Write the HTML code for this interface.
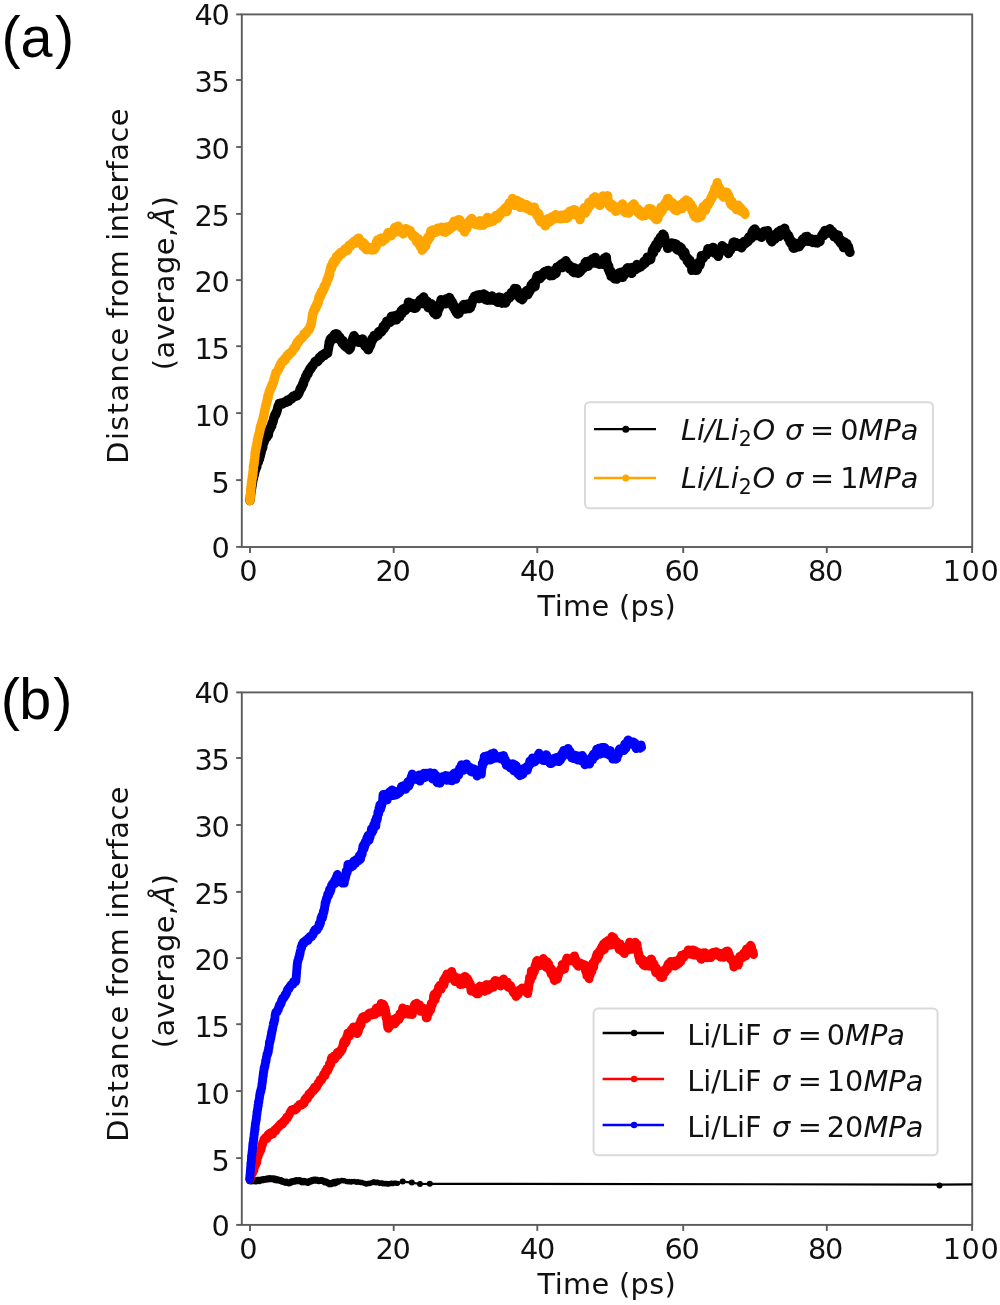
<!DOCTYPE html>
<html lang="en">
<head>
<meta charset="utf-8">
<title>Distance from interface vs time</title>
<style>
html,body{margin:0;padding:0;background:#fff;}
body{width:1000px;height:1305px;overflow:hidden;font-family:'Liberation Sans',sans-serif;}
svg{display:block;}
text{white-space:pre;}
</style>
</head>
<body>
<svg width="1000" height="1305" viewBox="0 0 1000 1305">
<rect width="1000" height="1305" fill="#fff"/>
<g>
<text x="1.6" y="57.3" dx="0 -0.3 2.5" font-family="'Liberation Sans',sans-serif" font-size="57.5" fill="#000">(a)</text>
<text x="0.8" y="718.5" dx="0 -0.7 2.0" font-family="'Liberation Sans',sans-serif" font-size="57.5" fill="#000">(b)</text>
<!-- panel a -->
<rect x="241.8" y="14.4" width="730.4" height="532.6" fill="#fff" stroke="#5c5c5c" stroke-width="1.9"/>
<g stroke="#5c5c5c" stroke-width="1.9"><line x1="250.0" y1="547.0" x2="250.0" y2="553.0"/><line x1="393.7" y1="547.0" x2="393.7" y2="553.0"/><line x1="537.3" y1="547.0" x2="537.3" y2="553.0"/><line x1="683.2" y1="547.0" x2="683.2" y2="553.0"/><line x1="826.8" y1="547.0" x2="826.8" y2="553.0"/><line x1="972.1" y1="547.0" x2="972.1" y2="553.0"/><line x1="241.8" y1="546.9" x2="236.2" y2="546.9"/><line x1="241.8" y1="480.1" x2="236.2" y2="480.1"/><line x1="241.8" y1="413.1" x2="236.2" y2="413.1"/><line x1="241.8" y1="346.2" x2="236.2" y2="346.2"/><line x1="241.8" y1="280.1" x2="236.2" y2="280.1"/><line x1="241.8" y1="213.9" x2="236.2" y2="213.9"/><line x1="241.8" y1="147.0" x2="236.2" y2="147.0"/><line x1="241.8" y1="80.0" x2="236.2" y2="80.0"/><line x1="241.8" y1="14.4" x2="236.2" y2="14.4"/></g>
<g font-family="'DejaVu Sans','Liberation Sans',sans-serif" font-size="28.8" fill="#111"><text x="248.3" y="580.9" text-anchor="middle" letter-spacing="0">0</text><text x="392.4" y="580.9" text-anchor="middle" letter-spacing="-1.3">20</text><text x="536.9" y="580.9" text-anchor="middle" letter-spacing="-1.3">40</text><text x="681.6" y="580.9" text-anchor="middle" letter-spacing="-1.3">60</text><text x="825.1" y="580.9" text-anchor="middle" letter-spacing="-1.3">80</text><text x="971.1" y="580.9" text-anchor="middle" letter-spacing="0.6">100</text><text x="228.5" y="25.3" text-anchor="end" letter-spacing="-1.3">40</text><text x="228.5" y="92.2" text-anchor="end" letter-spacing="-1.3">35</text><text x="228.5" y="159.1" text-anchor="end" letter-spacing="-1.3">30</text><text x="228.5" y="226.4" text-anchor="end" letter-spacing="-1.3">25</text><text x="228.5" y="291.5" text-anchor="end" letter-spacing="-1.3">20</text><text x="228.5" y="358.8" text-anchor="end" letter-spacing="-1.3">15</text><text x="228.5" y="426.1" text-anchor="end" letter-spacing="-1.3">10</text><text x="229.8" y="493.1" text-anchor="end" letter-spacing="0">5</text><text x="229.8" y="558.3" text-anchor="end" letter-spacing="0">0</text><text x="606.7" y="616.2" text-anchor="middle" textLength="138.2" lengthAdjust="spacing">Time (ps)</text><text transform="translate(127.9,0.0) rotate(-90)"><tspan x="-463.7" letter-spacing="1.41">Distance </tspan><tspan x="-318.4" letter-spacing="0.42">from </tspan><tspan x="-240.7" letter-spacing="0.46">interface</tspan></text><text transform="translate(174.2,282.8) rotate(-90)" text-anchor="middle" letter-spacing="0.5">(average,<tspan font-style="italic">Å</tspan>)</text></g>
<clipPath id="ca"><rect x="241.8" y="14.4" width="730.4" height="532.6"/></clipPath>
<g clip-path="url(#ca)">
<polyline points="250.0,500.6 250.1,499.2 250.1,499.3 250.2,499.6 250.3,498.9 250.3,497.9 250.4,497.5 250.5,496.8 250.5,495.1 250.6,494.3 250.7,494.3 250.8,493.8 250.8,493.8 250.9,492.4 251.0,491.9 251.0,492.2 251.1,491.5 251.2,490.9 251.2,489.8 251.3,489.3 251.4,488.8 251.4,488.6 251.5,488.6 251.6,488.7 251.6,487.5 251.7,486.3 251.8,486.3 251.9,486.3 252.0,486.0 252.1,485.0 252.2,484.3 252.3,483.4 252.4,483.0 252.5,483.1 252.6,482.2 252.7,480.6 252.8,480.0 252.9,479.9 253.1,479.1 253.2,478.7 253.3,479.2 253.4,478.7 253.5,477.4 253.6,476.9 253.7,475.8 253.8,475.5 253.9,475.3 254.0,475.4 254.2,475.2 254.3,474.8 254.5,474.3 254.6,473.3 254.8,471.4 255.0,470.7 255.1,470.2 255.3,470.5 255.4,470.1 255.6,469.5 255.7,469.4 255.9,468.6 256.0,468.9 256.2,468.1 256.4,466.6 256.5,466.0 256.7,466.7 256.9,466.5 257.0,464.8 257.2,463.5 257.4,462.8 257.6,462.3 257.7,462.7 257.9,462.3 258.1,462.1 258.3,462.2 258.4,461.6 258.6,460.0 258.8,459.9 259.0,459.1 259.1,458.5 259.3,459.4 259.5,458.9 259.7,457.1 259.8,456.2 260.0,456.8 260.2,456.0 260.4,455.4 260.5,454.4 260.6,453.3 260.8,453.4 260.9,453.3 261.1,452.5 261.2,451.0 261.4,451.0 261.5,450.3 261.6,449.2 261.8,449.3 261.9,449.6 262.1,449.1 262.2,448.3 262.4,448.2 262.5,447.9 262.6,447.9 262.8,447.0 262.9,445.8 263.1,444.5 263.2,443.5 263.3,443.0 263.5,442.5 263.6,442.3 263.8,441.7 264.0,441.3 264.3,441.9 264.5,440.6 264.8,439.3 265.1,439.4 265.3,438.5 265.6,437.6 265.9,437.6 266.1,437.5 266.4,437.6 266.7,437.5 266.9,437.0 267.2,436.3 267.5,435.3 267.7,435.7 268.0,435.6 268.3,435.1 268.5,433.8 268.7,431.8 268.9,431.8 269.0,431.2 269.2,429.9 269.4,429.5 269.6,430.1 269.8,429.5 270.0,429.2 270.2,428.9 270.4,427.7 270.5,427.5 270.7,427.6 270.9,426.6 271.1,426.2 271.3,425.9 271.5,426.1 271.7,426.3 271.9,424.5 272.0,423.4 272.2,422.8 272.4,422.4 272.6,422.4 272.8,422.3 273.0,421.9 273.2,420.9 273.3,420.1 273.5,419.7 273.7,418.6 273.9,417.5 274.0,417.2 274.2,417.6 274.4,416.7 274.6,416.1 274.8,415.4 275.0,414.4 275.2,414.7 275.4,415.2 275.6,414.8 275.9,414.0 276.1,412.6 276.3,412.6 276.5,412.6 276.7,411.9 276.9,411.6 277.1,410.3 277.3,409.8 277.5,409.0 277.7,407.9 277.9,407.7 278.1,406.3 278.3,406.3 278.5,406.0 278.7,405.9 278.9,405.8 279.1,404.4 279.3,403.4 279.5,403.4 279.8,404.0 280.3,404.1 280.8,403.5 281.3,403.6 281.9,402.9 282.4,402.8 282.9,403.8 283.4,402.4 283.9,402.7 284.4,402.4 285.0,401.8 285.5,401.8 286.0,401.5 286.5,402.2 287.0,401.0 287.5,400.0 288.1,401.1 288.6,401.2 289.1,399.9 289.6,399.3 290.1,398.9 290.5,398.6 291.0,398.3 291.4,398.9 291.9,398.6 292.3,397.0 292.8,396.4 293.2,396.6 293.7,396.4 294.1,396.3 294.6,396.5 295.0,396.5 295.5,396.1 295.9,394.8 296.4,395.0 296.8,396.0 297.3,395.6 297.7,394.7 298.2,394.6 298.6,393.6 298.8,392.9 299.0,393.1 299.2,392.5 299.5,391.1 299.7,391.0 299.9,390.5 300.1,389.0 300.3,389.2 300.5,389.5 300.7,388.6 300.9,387.7 301.2,388.5 301.4,388.2 301.6,386.9 301.8,386.1 302.0,385.8 302.2,386.3 302.4,386.1 302.6,384.8 302.8,383.6 303.1,383.8 303.3,384.2 303.5,383.7 303.8,382.0 304.0,380.3 304.3,379.8 304.5,380.0 304.8,379.4 305.0,379.3 305.3,378.7 305.5,377.0 305.8,377.0 306.0,377.6 306.2,376.3 306.5,375.0 306.7,374.7 307.0,373.8 307.2,374.0 307.5,373.7 307.7,373.2 308.0,373.9 308.2,373.3 308.5,371.8 308.7,370.9 309.0,370.7 309.2,371.0 309.5,369.6 309.8,368.8 310.1,369.1 310.5,369.3 310.8,368.7 311.1,368.0 311.4,366.6 311.8,367.5 312.1,366.8 312.4,365.3 312.8,365.4 313.1,365.5 313.4,364.7 313.8,364.1 314.1,363.5 314.4,363.2 314.7,362.4 315.1,361.5 315.5,361.2 315.9,360.9 316.3,361.6 316.7,361.9 317.1,361.5 317.5,361.8 317.9,360.3 318.2,359.4 318.6,360.5 319.0,359.5 319.4,357.3 319.8,357.4 320.2,358.2 320.6,358.3 321.0,358.0 321.4,356.7 321.7,355.3 322.2,355.0 322.6,355.4 323.1,354.7 323.5,354.1 324.0,355.4 324.4,355.4 324.9,353.3 325.4,353.5 325.8,353.6 326.3,352.9 326.7,352.8 327.2,351.6 327.5,352.3 327.6,353.0 327.7,353.2 327.8,351.4 328.0,349.8 328.1,350.3 328.2,349.3 328.3,349.5 328.5,348.3 328.6,346.9 328.7,345.9 328.8,345.5 329.0,345.5 329.1,343.4 329.2,342.5 329.3,342.5 329.4,342.8 329.6,341.7 329.7,341.5 329.8,343.0 329.9,341.8 330.1,339.4 330.4,338.9 330.7,339.9 331.1,340.6 331.4,338.7 331.8,337.6 332.2,338.8 332.5,339.7 332.9,338.8 333.3,336.8 333.6,337.0 334.0,336.9 334.3,334.7 334.7,334.2 335.1,335.4 335.4,336.1 335.8,334.6 336.2,333.7 336.5,334.1 336.8,334.8 337.1,334.6 337.4,334.2 337.7,335.8 338.0,336.0 338.4,336.7 338.7,339.1 339.0,339.0 339.3,337.3 339.6,336.9 339.9,337.2 340.2,338.9 340.5,339.9 340.8,341.0 341.1,341.3 341.4,339.8 341.8,341.1 342.1,343.2 342.4,343.1 342.8,341.2 343.2,340.8 343.7,342.7 344.1,344.9 344.5,345.8 344.9,346.2 345.4,346.1 345.8,346.9 346.2,346.7 346.6,347.4 347.1,346.7 347.5,344.9 347.9,345.3 348.3,346.3 348.8,348.6 349.2,349.8 349.4,349.2 349.7,349.1 349.9,347.6 350.2,347.7 350.4,348.2 350.7,346.2 350.9,344.0 351.2,343.9 351.4,342.6 351.7,344.0 351.9,343.9 352.1,342.9 352.4,342.8 352.6,339.4 352.9,338.1 353.1,339.8 353.4,338.8 353.6,336.6 353.9,335.6 354.5,336.4 355.0,339.6 355.5,338.5 356.1,338.7 356.6,341.1 357.1,339.3 357.7,340.6 358.2,342.2 358.7,342.3 359.2,341.7 359.8,339.7 360.3,340.5 360.8,342.3 361.4,341.2 361.9,339.3 362.2,339.8 362.6,339.0 363.0,341.0 363.4,343.1 363.8,342.3 364.2,343.5 364.6,345.4 365.0,346.2 365.4,345.0 365.8,343.9 366.1,344.3 366.5,345.6 366.9,347.9 367.3,346.4 367.7,346.1 368.1,349.6 368.5,349.7 368.8,347.8 369.0,346.8 369.2,346.7 369.5,346.8 369.7,344.7 369.9,344.9 370.1,346.2 370.4,343.7 370.6,344.5 370.8,344.5 371.0,343.5 371.3,342.7 371.5,341.4 371.7,340.6 371.9,339.1 372.2,339.2 372.4,338.2 372.6,339.4 372.8,340.0 373.1,337.7 373.3,337.6 373.7,336.6 374.1,335.4 374.5,336.2 374.9,336.4 375.3,335.2 375.7,335.2 376.2,336.5 376.6,336.2 377.0,335.4 377.4,335.2 377.8,335.5 378.2,335.2 378.6,331.7 379.0,331.4 379.5,332.8 379.9,332.8 380.3,331.4 380.7,332.3 381.1,332.2 381.5,331.8 381.9,331.1 382.4,328.5 382.7,329.5 382.9,328.0 383.2,326.2 383.4,327.3 383.6,328.4 383.9,328.9 384.1,328.1 384.4,328.1 384.6,326.7 384.9,324.9 385.1,326.5 385.4,323.8 385.6,323.4 385.9,325.8 386.1,324.3 386.4,324.1 386.6,324.1 386.8,321.2 387.1,321.1 387.6,321.5 388.1,320.9 388.7,322.7 389.2,322.6 389.7,321.9 390.3,322.2 390.8,319.5 391.3,316.5 391.9,316.2 392.4,316.7 392.9,320.2 393.5,320.1 394.0,319.8 394.5,319.0 395.1,315.6 395.6,315.9 396.2,318.7 396.6,319.9 396.9,319.1 397.3,316.4 397.6,317.0 398.0,316.7 398.4,314.2 398.7,315.1 399.1,313.8 399.4,313.6 399.8,316.7 400.2,314.2 400.5,313.3 400.9,312.8 401.2,310.6 401.6,310.4 402.0,313.6 402.3,312.1 402.7,309.3 403.0,310.4 403.4,308.7 403.9,310.6 404.4,310.4 404.8,309.7 405.3,310.5 405.7,309.1 406.2,309.3 406.6,308.5 407.1,308.1 407.6,308.1 408.0,305.1 408.5,302.1 408.9,302.6 409.4,302.6 409.8,303.3 410.3,307.1 410.9,307.3 411.4,304.5 412.0,303.4 412.5,304.7 413.1,307.2 413.6,308.3 414.1,308.3 414.7,306.9 415.2,307.5 415.8,308.0 416.3,307.4 416.9,305.3 417.3,304.3 417.6,304.2 418.0,302.8 418.3,302.7 418.7,303.5 419.0,301.8 419.4,301.7 419.8,302.4 420.1,299.9 420.5,301.9 420.8,303.7 421.2,301.1 421.5,298.9 421.9,299.5 422.3,302.0 422.6,301.9 423.0,299.6 423.3,297.5 423.7,296.9 424.0,299.4 424.4,299.6 424.8,300.9 425.1,303.5 425.5,302.0 425.8,300.3 426.2,301.1 426.5,304.8 426.9,303.8 427.3,301.4 427.6,301.8 428.0,304.0 428.3,307.8 428.7,307.5 429.0,304.9 429.4,306.6 429.7,307.8 430.1,307.8 430.5,307.0 430.8,303.9 431.1,303.6 431.4,304.1 431.8,306.0 432.1,308.6 432.4,309.3 432.7,307.8 433.0,310.1 433.3,311.9 433.7,311.2 434.0,312.7 434.3,313.5 434.6,311.6 434.9,313.3 435.2,313.4 435.6,310.8 435.9,313.1 436.1,314.7 436.3,312.5 436.6,312.6 436.8,311.7 437.0,310.4 437.2,313.5 437.4,313.8 437.6,312.6 437.8,311.4 438.0,310.8 438.2,307.7 438.5,308.0 438.7,309.1 438.9,307.7 439.1,308.7 439.3,308.1 439.5,304.8 439.7,303.4 439.9,303.6 440.2,304.8 440.4,305.1 440.6,303.2 440.8,301.4 441.0,299.7 441.5,300.5 442.1,303.7 442.6,301.8 443.2,301.0 443.7,300.6 444.3,301.3 444.8,303.7 445.4,303.8 445.9,302.0 446.5,298.6 447.0,299.6 447.6,298.9 448.1,299.8 448.7,300.2 449.2,297.5 449.7,297.6 450.2,300.0 450.5,300.2 450.8,299.8 451.1,301.0 451.5,303.2 451.8,303.2 452.1,301.8 452.4,304.7 452.8,306.4 453.1,304.0 453.4,306.4 453.7,307.9 454.1,306.1 454.4,308.2 454.7,309.2 455.0,310.1 455.4,310.9 455.7,309.0 456.0,309.5 456.3,312.6 456.6,312.1 457.0,311.7 457.3,313.5 457.6,314.1 457.9,313.4 458.3,311.0 458.7,311.5 459.1,313.3 459.5,311.8 459.9,308.2 460.3,309.0 460.7,310.1 461.0,309.2 461.4,307.1 461.8,307.3 462.2,308.2 462.6,308.5 463.0,307.9 463.4,304.6 463.8,304.4 464.2,307.1 464.8,308.7 465.3,309.1 465.8,306.9 466.4,305.7 466.9,305.1 467.5,303.9 468.0,303.9 468.6,305.2 469.1,308.6 469.6,308.4 470.1,306.9 470.5,307.6 470.8,305.9 471.2,303.9 471.6,305.3 471.9,303.2 472.3,302.1 472.6,300.9 473.0,298.9 473.3,298.7 473.7,298.3 474.1,297.8 474.4,296.3 474.8,296.4 475.1,297.3 475.5,298.2 475.9,296.3 476.3,295.8 476.8,295.8 477.4,295.1 477.9,295.0 478.4,296.7 479.0,298.5 479.5,296.7 480.0,294.8 480.5,295.9 481.1,296.6 481.6,295.0 482.1,296.8 482.7,298.0 483.2,296.7 483.6,294.0 484.1,296.9 484.5,298.0 485.0,294.7 485.4,296.1 485.8,299.8 486.3,297.9 486.7,295.8 487.2,297.6 487.6,300.2 488.1,298.7 488.5,297.7 489.0,300.1 489.4,299.2 489.9,297.5 490.4,298.2 490.9,300.0 491.5,299.3 492.0,296.0 492.6,297.6 493.1,300.2 493.7,297.8 494.2,298.2 494.8,300.5 495.3,299.3 495.9,299.3 496.4,300.0 497.0,301.0 497.5,302.3 498.0,300.8 498.6,297.2 499.1,297.3 499.6,299.6 500.2,299.3 500.7,297.6 501.2,297.7 501.8,300.8 502.3,303.2 502.8,300.5 503.4,299.2 503.9,300.2 504.4,299.8 505.0,302.3 505.5,303.1 506.0,301.7 506.3,301.1 506.6,298.1 506.9,296.9 507.2,297.7 507.4,299.7 507.7,298.6 508.0,296.5 508.3,295.7 508.6,296.9 508.9,296.0 509.1,295.9 509.4,297.9 509.7,295.7 510.0,295.5 510.3,296.3 510.6,296.1 510.8,296.4 511.1,293.8 511.4,292.4 511.7,292.8 512.0,292.1 512.4,294.4 512.8,293.2 513.2,291.7 513.7,292.1 514.1,289.7 514.5,288.4 515.0,288.6 515.4,288.8 515.8,290.9 516.3,289.6 516.7,288.8 517.0,290.5 517.2,290.5 517.3,292.6 517.5,293.0 517.6,293.3 517.8,292.5 517.9,291.4 518.1,291.8 518.2,293.8 518.3,296.2 518.5,293.7 518.6,292.6 518.8,292.3 518.9,294.5 519.1,297.2 519.2,297.4 519.4,297.2 519.5,295.1 519.6,295.1 519.8,297.5 519.9,298.3 520.2,296.2 520.6,296.6 521.0,296.8 521.4,295.7 521.8,298.4 522.2,299.7 522.5,299.2 522.9,299.0 523.3,297.9 523.7,295.6 524.1,295.4 524.5,294.5 524.9,292.2 525.3,291.9 525.7,292.0 526.0,293.2 526.4,293.4 526.8,290.5 527.2,291.9 527.6,294.7 528.0,294.2 528.4,293.5 528.8,292.8 529.2,292.1 529.6,291.4 529.9,290.2 530.3,290.3 530.7,287.3 531.1,285.2 531.5,287.1 531.9,287.0 532.2,287.7 532.5,286.1 532.7,283.2 533.0,283.0 533.3,283.4 533.5,285.2 533.8,283.7 534.1,283.7 534.3,287.0 534.6,284.4 534.9,284.1 535.1,286.3 535.4,282.3 535.7,282.3 535.9,281.4 536.2,278.6 536.5,278.2 536.7,277.3 537.0,276.2 537.5,275.8 538.0,277.2 538.4,277.3 538.9,276.8 539.4,278.3 539.9,278.8 540.3,275.6 540.8,274.6 541.3,277.0 541.8,276.9 542.3,275.0 542.7,274.6 543.2,274.8 543.7,272.5 544.2,272.0 544.7,271.7 545.3,272.5 545.8,273.0 546.4,273.9 546.9,273.8 547.5,270.7 548.0,270.4 548.6,271.6 549.1,273.3 549.7,275.1 550.2,275.7 550.8,273.0 551.3,271.8 551.9,273.3 552.3,275.1 552.7,275.6 553.1,274.9 553.5,272.9 553.9,272.5 554.3,272.2 554.6,270.0 555.0,271.3 555.4,273.2 555.8,273.5 556.2,273.0 556.6,270.0 557.0,267.1 557.4,267.3 557.8,268.5 558.2,268.7 558.5,268.6 558.9,266.3 559.3,265.7 559.7,265.4 560.1,267.1 560.7,266.1 561.2,264.1 561.7,263.9 562.2,265.8 562.7,267.5 563.3,265.9 563.8,262.5 564.3,263.9 564.8,266.1 565.4,264.0 565.9,260.7 566.3,261.7 566.7,263.1 567.1,263.3 567.5,264.8 567.9,265.0 568.2,267.4 568.6,267.9 569.0,264.8 569.4,265.7 569.8,269.1 570.2,267.8 570.6,266.4 571.0,267.3 571.4,268.3 571.7,268.3 572.1,266.9 572.5,269.8 572.9,271.8 573.3,271.6 573.7,271.2 574.1,272.5 574.6,270.0 575.1,268.0 575.7,270.4 576.2,269.2 576.7,270.8 577.2,273.0 577.8,272.3 578.3,273.2 578.8,272.9 579.3,272.6 579.8,271.6 580.3,271.3 580.7,271.4 581.2,270.3 581.6,268.9 582.1,267.2 582.5,267.9 583.0,267.5 583.4,268.5 583.8,267.8 584.3,267.2 584.7,265.4 585.2,262.5 585.6,262.2 586.0,261.8 586.5,263.1 586.9,262.5 587.4,262.7 587.8,265.9 588.2,266.3 588.7,263.6 589.1,261.0 589.6,262.1 590.0,260.9 590.5,261.5 590.9,263.0 591.4,261.6 591.8,260.1 592.3,259.0 592.7,261.2 593.2,263.1 593.6,260.6 594.1,261.5 594.5,260.1 595.0,257.5 595.3,257.4 595.7,259.1 596.1,262.4 596.5,260.8 596.9,260.9 597.3,263.5 597.7,262.1 598.1,262.6 598.5,263.6 598.9,263.0 599.2,264.3 599.6,263.2 600.0,263.8 600.4,261.9 600.9,261.1 601.3,262.6 601.7,262.7 602.1,263.4 602.6,264.0 603.0,263.7 603.4,263.5 603.8,261.6 604.2,258.1 604.7,258.9 605.1,258.2 605.5,259.0 605.9,260.4 606.1,257.9 606.3,257.0 606.5,259.8 606.7,263.8 606.8,261.9 607.0,262.6 607.2,263.3 607.4,263.7 607.5,266.2 607.7,266.4 607.9,265.1 608.1,266.0 608.2,269.0 608.4,269.4 608.6,268.2 608.8,266.3 608.9,267.5 609.1,270.0 609.3,271.6 609.5,271.3 609.6,271.3 609.8,272.7 610.0,273.0 610.2,273.6 610.3,272.6 610.5,270.7 610.7,270.9 610.8,273.6 611.1,276.4 611.5,275.4 612.0,274.6 612.5,276.1 612.9,277.5 613.4,275.4 613.9,274.5 614.4,278.2 614.8,278.9 615.3,278.0 615.8,276.2 616.3,278.0 616.8,279.1 617.3,277.0 617.9,276.6 618.4,275.8 618.9,272.9 619.5,272.7 620.0,272.5 620.5,272.4 621.0,272.3 621.6,272.9 622.1,275.9 622.6,277.4 623.1,274.3 623.5,271.8 623.9,273.7 624.3,275.1 624.7,273.8 625.1,272.8 625.4,273.6 625.8,273.5 626.2,272.9 626.6,270.4 627.0,268.4 627.4,267.8 627.8,269.0 628.2,270.3 628.7,271.3 629.3,272.0 629.8,272.2 630.3,270.5 630.8,267.8 631.3,270.4 631.8,273.4 632.4,270.4 632.9,267.7 633.4,267.2 633.9,267.3 634.4,268.9 634.9,268.8 635.4,268.2 636.0,269.3 636.5,267.0 637.0,264.5 637.5,267.5 638.1,268.1 638.6,265.8 639.1,265.4 639.7,265.3 640.2,265.7 640.7,266.9 641.2,266.4 641.8,265.5 642.3,265.4 642.8,263.9 643.2,264.6 643.6,264.1 643.9,261.5 644.2,261.6 644.6,262.1 644.9,263.5 645.3,262.2 645.6,260.8 645.9,260.7 646.3,259.5 646.6,261.2 646.9,261.5 647.3,257.1 647.6,257.5 648.0,259.2 648.3,259.4 648.6,257.8 649.0,257.8 649.3,260.0 649.7,258.6 650.0,257.9 650.3,259.1 650.6,259.5 650.9,258.0 651.3,255.6 651.6,254.4 651.9,253.9 652.2,252.1 652.5,250.1 652.8,251.2 653.1,252.7 653.5,252.9 653.8,250.1 654.1,247.3 654.4,247.0 654.7,247.8 655.0,247.8 655.4,245.9 655.7,244.4 656.0,245.7 656.3,248.4 656.6,245.5 656.9,243.1 657.2,245.3 657.5,246.3 657.8,244.3 658.1,240.6 658.4,242.0 658.6,244.4 658.9,242.4 659.2,242.9 659.5,243.2 659.8,241.1 660.1,239.9 660.3,237.2 660.6,238.3 660.9,240.4 661.2,238.2 661.5,237.1 661.8,238.6 662.0,236.9 662.3,236.8 662.6,235.4 662.9,234.1 663.1,235.2 663.4,237.0 663.6,238.3 663.9,235.9 664.1,235.4 664.4,236.9 664.6,237.5 664.9,239.4 665.1,241.7 665.4,242.3 665.6,242.9 665.9,242.8 666.1,242.1 666.3,243.4 666.6,244.1 666.8,242.6 667.1,242.6 667.3,245.3 667.6,248.4 667.8,246.7 668.1,244.5 668.7,245.2 669.2,247.6 669.7,245.2 670.3,244.1 670.8,244.7 671.4,243.0 671.9,243.9 672.4,243.5 673.0,244.8 673.5,244.5 674.0,243.4 674.6,245.8 675.1,247.3 675.6,246.9 676.1,244.2 676.4,245.9 676.8,249.4 677.1,247.1 677.4,247.3 677.7,250.0 678.1,248.8 678.4,247.9 678.7,246.1 679.1,247.0 679.4,250.1 679.7,247.8 680.1,246.6 680.4,249.4 680.7,251.4 681.0,249.4 681.4,247.8 681.7,249.0 682.0,249.4 682.4,253.3 682.7,253.2 683.0,251.3 683.4,254.2 683.7,256.1 684.0,256.5 684.4,254.5 684.7,252.2 685.0,252.8 685.3,254.9 685.7,257.5 686.0,256.6 686.3,256.9 686.7,257.7 687.0,259.5 687.3,261.2 687.7,258.1 688.0,259.6 688.2,261.6 688.5,261.8 688.7,262.5 689.0,263.5 689.2,262.8 689.5,263.5 689.7,262.7 690.0,260.5 690.2,261.3 690.4,264.3 690.7,264.2 690.9,262.2 691.2,264.2 691.4,264.1 691.7,267.0 691.9,270.4 692.4,269.5 692.9,268.1 693.5,266.7 694.0,265.8 694.6,266.6 695.1,268.5 695.7,270.4 696.2,268.8 696.8,268.6 697.3,270.0 697.9,266.7 698.2,264.2 698.4,263.5 698.6,265.5 698.8,266.0 699.0,262.1 699.2,263.2 699.4,263.7 699.6,264.4 699.8,265.5 700.0,264.8 700.2,264.2 700.4,263.1 700.6,261.7 700.8,259.8 701.0,260.4 701.2,258.7 701.4,255.6 701.6,257.5 701.8,258.3 702.1,256.4 702.4,256.2 702.8,256.8 703.1,258.3 703.5,255.8 703.8,255.6 704.1,255.8 704.5,254.6 704.8,254.7 705.2,255.3 705.5,254.6 705.9,254.0 706.2,255.2 706.5,254.3 706.9,253.3 707.2,253.7 707.6,251.0 707.9,248.8 708.3,251.2 708.6,252.1 709.0,251.8 709.3,250.9 709.6,248.7 710.0,249.2 710.4,249.4 710.9,248.9 711.4,248.6 711.8,248.0 712.3,249.2 712.8,248.1 713.2,247.4 713.7,250.0 714.2,252.8 714.6,251.1 715.1,249.0 715.6,251.7 716.0,251.5 716.5,250.4 717.0,253.6 717.4,255.1 717.9,255.7 718.3,256.4 718.8,254.2 719.2,253.5 719.6,252.2 720.0,250.2 720.5,249.8 720.9,249.7 721.3,250.0 721.7,248.8 722.1,245.7 722.6,247.9 723.0,249.3 723.4,246.6 723.8,247.6 724.2,248.3 724.6,248.6 725.0,250.7 725.4,249.3 725.8,249.6 726.2,250.7 726.6,248.4 727.0,250.7 727.3,252.0 727.7,249.8 728.1,252.6 728.5,253.5 728.8,250.2 729.2,249.7 729.6,248.7 729.9,248.8 730.3,250.7 730.7,249.8 731.0,249.1 731.4,247.2 731.7,247.0 732.1,246.8 732.5,246.6 732.8,244.3 733.2,242.2 733.6,242.1 733.9,243.0 734.3,245.0 734.6,243.8 735.0,245.2 735.5,246.2 736.1,242.7 736.6,244.4 737.1,245.0 737.7,243.4 738.2,243.8 738.7,245.8 739.2,246.0 739.8,245.6 740.3,245.2 740.8,245.2 741.4,247.8 741.9,247.4 742.3,245.9 742.7,244.8 743.1,242.4 743.5,242.2 743.9,241.4 744.2,241.6 744.6,244.1 745.0,243.6 745.4,241.4 745.8,240.7 746.2,243.0 746.6,242.3 747.0,240.0 747.4,241.6 747.8,240.9 748.1,241.6 748.4,240.8 748.7,237.2 749.0,236.9 749.3,238.4 749.6,238.3 749.9,236.9 750.2,237.2 750.6,239.0 750.9,237.5 751.2,237.1 751.5,238.1 751.8,235.0 752.1,232.1 752.4,231.6 752.7,231.0 753.0,232.5 753.3,233.1 753.6,229.8 753.9,230.0 754.3,230.6 754.8,229.0 755.3,229.8 755.8,233.4 756.3,235.0 756.8,235.6 757.3,235.0 757.8,235.0 758.3,234.8 758.8,233.0 759.3,234.9 759.8,235.2 760.3,233.1 760.8,234.2 761.4,237.3 761.9,235.6 762.5,233.2 763.0,232.5 763.5,233.1 764.1,233.3 764.6,231.1 765.2,232.6 765.7,231.7 766.3,231.6 766.8,234.9 767.2,232.6 767.6,230.7 767.9,232.5 768.3,235.4 768.6,234.0 769.0,234.1 769.3,234.4 769.7,235.0 770.1,237.3 770.4,239.9 770.8,239.7 771.1,237.0 771.5,239.6 771.8,241.8 772.2,238.1 772.6,235.8 773.0,235.4 773.4,235.7 773.7,235.3 774.1,235.2 774.5,237.4 774.9,239.1 775.3,238.4 775.7,235.3 776.1,235.6 776.5,236.7 776.9,236.8 777.2,235.1 777.6,232.5 778.0,232.0 778.6,234.1 779.1,236.5 779.7,236.1 780.2,233.2 780.7,230.1 781.3,232.4 781.8,232.6 782.4,231.7 782.9,232.5 783.5,230.2 784.0,229.5 784.3,228.6 784.7,228.3 785.0,231.1 785.4,232.9 785.7,232.6 786.1,232.7 786.4,232.5 786.7,235.1 787.1,236.4 787.4,235.4 787.8,235.3 788.1,238.4 788.4,237.4 788.6,235.7 788.9,236.8 789.1,236.8 789.4,237.5 789.7,239.9 789.9,242.1 790.2,241.6 790.5,241.3 790.7,241.0 791.0,242.0 791.3,244.1 791.5,243.0 791.8,241.1 792.0,241.5 792.3,242.9 792.6,244.4 792.8,245.6 793.1,247.8 793.4,248.2 793.6,246.7 793.9,245.1 794.3,246.5 794.7,248.0 795.1,247.8 795.6,245.0 796.0,243.6 796.5,243.5 796.9,245.7 797.3,244.8 797.8,243.9 798.2,244.3 798.7,246.0 799.1,246.7 799.5,246.2 800.0,245.3 800.4,242.9 800.9,244.5 801.3,243.9 801.7,241.9 802.2,240.0 802.7,239.0 803.2,239.0 803.7,239.0 804.2,239.2 804.7,241.4 805.2,240.0 805.7,236.6 806.1,237.3 806.6,238.5 807.1,236.4 807.6,238.0 808.1,241.4 808.6,241.4 809.1,240.9 809.6,240.7 810.1,240.9 810.6,239.0 811.1,238.8 811.6,241.4 812.1,241.9 812.7,242.3 813.2,241.8 813.7,241.4 814.2,240.6 814.7,239.6 815.2,239.4 815.8,240.0 816.3,242.9 816.8,242.7 817.3,242.9 817.8,242.2 818.2,240.7 818.6,240.2 818.9,239.6 819.3,241.4 819.7,241.8 820.0,241.4 820.4,238.1 820.7,237.4 821.1,237.6 821.5,236.4 821.8,235.3 822.2,234.5 822.5,236.1 822.9,234.2 823.2,233.3 823.6,235.9 824.0,235.0 824.4,232.2 824.8,230.5 825.2,230.8 825.7,231.3 826.1,232.1 826.5,233.4 827.0,233.2 827.4,233.0 827.8,233.1 828.2,232.5 828.7,229.9 829.1,229.2 829.5,230.3 829.9,228.7 830.4,230.2 830.8,231.0 831.2,231.6 831.6,233.6 832.0,231.3 832.4,231.1 832.9,233.4 833.3,232.9 833.7,234.8 834.1,236.8 834.5,234.7 835.0,233.9 835.4,235.4 835.8,236.1 836.2,237.9 836.5,237.5 836.8,236.5 837.1,236.3 837.4,236.8 837.7,239.6 838.0,238.8 838.3,235.3 838.6,238.4 838.9,238.8 839.2,238.2 839.5,241.0 839.8,240.5 840.1,242.6 840.4,242.1 840.7,240.0 841.0,243.6 841.3,243.3 841.6,242.1 842.0,242.8 842.5,243.5 843.0,245.8 843.5,247.5 844.1,245.5 844.6,241.9 845.2,243.4 845.7,247.1 846.3,244.4 846.8,243.4 847.3,246.0 847.9,246.0 848.2,246.6 848.4,246.3 848.6,247.7 848.8,248.2 849.0,249.0 849.2,251.0 849.4,251.7 849.6,251.2 849.8,252.2 850.0,252.3" fill="none" stroke="#000" stroke-width="9.4" stroke-linecap="round" stroke-linejoin="round"/>
<polyline points="250.0,500.0 250.0,500.6 250.1,500.2 250.1,499.3 250.2,498.1 250.2,498.1 250.3,498.0 250.3,497.3 250.4,496.4 250.4,495.5 250.5,495.5 250.5,495.0 250.6,493.6 250.6,493.4 250.7,493.4 250.7,491.7 250.8,490.3 250.8,490.6 250.9,490.1 250.9,488.7 250.9,488.7 251.0,488.1 251.0,487.1 251.1,486.8 251.1,486.6 251.2,486.2 251.2,486.5 251.3,485.6 251.3,484.6 251.4,485.1 251.4,484.7 251.5,482.9 251.6,481.9 251.6,482.0 251.7,482.5 251.8,481.6 251.8,480.5 251.9,479.6 252.0,479.3 252.0,478.9 252.1,479.1 252.2,478.5 252.2,477.6 252.3,478.0 252.4,477.7 252.5,476.5 252.5,475.1 252.6,475.0 252.7,475.7 252.7,474.9 252.8,474.1 252.9,473.4 252.9,472.4 253.0,472.0 253.1,471.4 253.1,470.8 253.2,470.2 253.3,469.4 253.3,467.7 253.4,466.9 253.5,466.8 253.5,466.3 253.6,465.5 253.7,465.1 253.8,464.9 253.8,463.9 253.9,464.2 254.0,464.5 254.0,464.2 254.1,463.9 254.2,462.9 254.2,461.3 254.3,460.4 254.4,461.0 254.4,460.9 254.5,459.7 254.6,459.1 254.6,459.1 254.7,458.1 254.8,456.6 254.8,456.7 254.9,456.8 255.0,455.9 255.0,454.7 255.1,453.7 255.2,453.3 255.2,452.1 255.3,452.6 255.4,452.0 255.4,451.1 255.5,451.0 255.6,450.9 255.7,450.9 255.8,449.2 255.9,448.1 256.0,448.0 256.1,448.5 256.2,448.0 256.3,447.7 256.4,446.9 256.5,446.1 256.6,445.3 256.7,444.6 256.9,444.8 257.0,444.8 257.1,443.7 257.2,441.9 257.3,442.3 257.4,441.2 257.5,439.9 257.6,440.5 257.7,440.9 257.8,439.8 257.9,439.1 258.0,438.2 258.2,436.9 258.3,436.0 258.4,436.5 258.5,436.5 258.7,435.5 258.8,435.5 258.9,435.2 259.0,433.9 259.2,433.5 259.3,433.1 259.4,432.1 259.6,432.1 259.7,432.3 259.8,431.3 259.9,429.5 260.1,429.4 260.2,428.3 260.3,427.2 260.4,428.3 260.6,428.0 260.7,426.2 260.8,425.5 261.0,425.2 261.1,425.4 261.2,426.0 261.4,424.8 261.5,424.4 261.7,424.0 261.8,422.1 262.0,422.0 262.1,421.4 262.3,421.1 262.4,421.4 262.6,420.5 262.7,419.9 262.9,419.0 263.0,418.8 263.2,418.8 263.3,417.7 263.4,416.5 263.6,415.6 263.7,415.8 263.8,416.5 263.9,415.5 264.1,414.2 264.2,413.3 264.3,412.2 264.4,411.6 264.5,411.8 264.6,411.3 264.7,410.1 264.8,410.2 264.9,409.9 265.0,409.4 265.1,409.4 265.2,409.0 265.4,408.0 265.5,406.5 265.6,405.8 265.7,406.1 265.8,405.7 265.9,404.9 266.1,404.5 266.2,404.5 266.3,404.8 266.5,403.3 266.6,402.8 266.8,402.6 266.9,401.3 267.1,400.6 267.2,401.0 267.3,399.8 267.5,399.0 267.6,398.2 267.8,396.8 267.9,396.3 268.0,396.3 268.2,397.2 268.3,396.1 268.5,394.4 268.6,394.6 268.8,394.0 268.9,393.5 269.0,393.1 269.2,391.9 269.3,391.4 269.5,390.9 269.7,391.3 269.9,391.2 270.1,389.7 270.3,389.0 270.4,388.7 270.6,388.2 270.8,387.8 271.0,388.5 271.2,388.1 271.4,387.6 271.6,386.8 271.8,385.3 272.0,385.3 272.2,385.4 272.4,385.2 272.5,384.8 272.7,383.6 272.9,383.2 273.1,383.3 273.3,382.7 273.5,382.1 273.7,381.5 273.9,380.8 274.0,379.8 274.2,378.7 274.4,378.2 274.6,378.2 274.8,376.9 275.0,375.9 275.1,375.9 275.3,375.4 275.5,375.1 275.7,374.4 275.9,373.0 276.0,372.5 276.2,372.4 276.4,372.5 276.6,372.4 276.8,371.7 277.0,371.6 277.1,371.5 277.3,371.1 277.5,371.2 277.8,370.5 278.1,369.9 278.4,369.2 278.7,368.5 279.0,368.5 279.3,367.0 279.6,366.1 279.9,366.7 280.2,366.2 280.5,364.9 280.8,363.6 281.1,363.1 281.4,363.1 281.7,362.7 282.0,361.9 282.3,361.2 282.6,361.1 282.9,360.7 283.2,360.8 283.5,361.3 283.9,361.0 284.2,360.2 284.6,358.9 284.9,358.9 285.3,359.6 285.7,358.9 286.0,358.1 286.4,357.2 286.8,355.7 287.1,355.6 287.5,356.0 287.8,356.1 288.2,355.2 288.6,353.8 288.9,354.2 289.3,354.7 289.7,353.6 290.0,353.1 290.4,352.8 290.7,352.9 291.1,352.8 291.4,352.0 291.8,352.0 292.2,351.5 292.5,350.9 292.9,350.0 293.2,349.7 293.6,348.9 294.0,348.0 294.3,348.4 294.7,347.9 295.0,347.0 295.3,347.2 295.6,347.0 295.9,346.3 296.2,344.7 296.5,343.8 296.8,343.2 297.1,342.4 297.4,342.7 297.7,343.3 298.0,342.4 298.3,341.8 298.6,342.0 298.9,340.9 299.2,340.0 299.6,340.2 299.9,339.2 300.2,339.0 300.5,339.5 300.8,338.8 301.1,338.3 301.5,338.6 301.9,338.3 302.3,337.9 302.7,337.4 303.1,336.5 303.5,335.8 303.9,334.3 304.3,334.3 304.7,335.0 305.1,334.6 305.5,334.3 305.9,334.0 306.3,333.3 306.7,331.4 307.1,331.0 307.5,330.7 307.8,330.2 308.1,330.0 308.3,329.3 308.5,329.5 308.8,329.9 309.0,329.6 309.3,329.5 309.5,329.0 309.8,327.5 310.0,326.3 310.3,326.1 310.5,326.3 310.8,325.4 311.0,325.3 311.1,324.6 311.2,323.4 311.3,323.5 311.4,322.6 311.4,322.2 311.5,321.7 311.6,321.3 311.7,321.5 311.8,320.3 311.9,319.3 312.0,319.1 312.1,317.8 312.1,317.4 312.2,318.1 312.3,317.4 312.4,316.1 312.5,315.8 312.6,314.6 312.8,313.5 313.0,312.9 313.2,312.0 313.4,312.0 313.6,312.4 313.8,310.8 314.0,310.0 314.2,309.7 314.4,310.2 314.6,309.8 314.8,308.0 315.0,308.4 315.2,309.3 315.4,307.6 315.6,307.7 315.8,308.0 316.0,305.7 316.2,305.2 316.4,305.1 316.6,305.4 316.8,306.2 317.0,305.0 317.2,303.4 317.4,304.0 317.6,304.0 317.8,301.9 318.0,302.3 318.2,302.7 318.4,300.8 318.6,298.9 318.8,297.8 319.0,297.0 319.2,297.4 319.4,298.4 319.6,297.8 319.8,296.4 320.0,294.6 320.2,295.4 320.4,295.1 320.7,294.9 320.9,295.4 321.2,294.0 321.4,292.1 321.6,291.5 321.9,291.5 322.1,291.6 322.4,292.1 322.6,291.4 322.9,290.8 323.1,290.8 323.3,290.4 323.6,290.1 323.8,288.2 324.1,286.4 324.3,287.5 324.6,287.6 324.8,286.1 325.0,285.4 325.3,285.0 325.5,284.7 325.8,283.6 326.0,284.0 326.3,283.6 326.5,281.9 326.7,282.1 327.0,280.7 327.2,279.1 327.4,279.6 327.6,280.0 327.8,278.2 327.9,277.9 328.1,277.2 328.2,276.8 328.4,278.2 328.5,277.3 328.7,276.2 328.8,275.7 329.0,274.1 329.1,274.7 329.3,274.8 329.4,274.3 329.6,274.9 329.7,273.5 329.9,271.2 330.0,270.2 330.2,269.5 330.3,268.9 330.5,268.3 330.6,268.6 330.8,268.7 330.9,267.0 331.1,266.4 331.2,265.9 331.4,266.3 331.6,268.0 331.7,266.8 331.9,266.2 332.0,266.9 332.3,265.4 332.6,263.0 332.9,262.5 333.2,262.5 333.5,261.6 333.8,260.9 334.1,262.0 334.4,262.9 334.7,260.2 335.0,260.3 335.3,259.8 335.6,258.8 335.9,260.5 336.3,258.5 336.6,256.4 336.9,256.1 337.3,256.5 337.7,258.0 338.1,257.4 338.5,255.6 338.9,254.9 339.3,253.8 339.7,253.4 340.1,253.7 340.5,254.8 340.9,253.4 341.3,252.2 341.7,252.3 342.1,253.8 342.5,253.0 342.9,251.9 343.3,252.1 343.7,252.0 344.1,251.1 344.5,249.8 344.9,249.0 345.3,249.7 345.8,250.0 346.2,248.1 346.6,249.2 347.0,250.5 347.5,250.3 347.9,249.0 348.3,248.9 348.7,247.6 349.1,245.4 349.6,245.2 350.0,245.6 350.4,246.2 350.9,245.3 351.4,244.8 351.8,244.0 352.3,242.9 352.8,243.4 353.2,242.9 353.7,242.5 354.2,241.3 354.6,241.1 355.1,243.2 355.6,241.5 356.1,241.4 356.5,241.0 357.0,239.1 357.5,239.8 357.9,238.3 358.4,238.2 358.9,238.2 359.3,238.9 359.8,241.9 360.2,242.0 360.5,240.6 360.9,241.8 361.3,243.6 361.7,243.5 362.1,243.6 362.5,245.2 362.9,246.4 363.3,243.6 363.7,242.7 364.1,245.1 364.5,245.1 364.9,244.8 365.2,244.8 365.6,246.3 366.0,249.3 366.4,249.5 366.9,248.2 367.4,248.8 367.9,249.5 368.4,247.6 368.9,249.2 369.4,247.8 369.9,247.7 370.4,249.5 370.9,249.0 371.4,249.9 371.9,247.7 372.4,247.7 372.8,248.6 373.3,247.2 373.6,248.1 373.9,249.8 374.1,247.9 374.4,247.8 374.7,248.6 375.0,248.4 375.2,248.6 375.5,247.5 375.8,247.4 376.1,246.4 376.3,242.4 376.6,242.2 376.9,244.9 377.2,244.0 377.4,240.0 377.7,240.5 378.0,242.2 378.5,241.9 378.9,241.9 379.4,242.4 379.8,241.5 380.2,239.7 380.7,238.3 381.1,239.4 381.6,241.9 382.0,241.6 382.4,241.5 382.9,238.3 383.3,238.2 383.8,238.9 384.2,237.7 384.6,237.7 385.1,238.1 385.5,239.2 386.0,237.7 386.4,236.8 386.8,237.5 387.3,235.7 387.8,233.3 388.2,232.6 388.7,233.2 389.2,232.5 389.7,233.6 390.1,234.3 390.6,234.6 391.1,235.7 391.5,235.1 392.0,232.3 392.5,232.0 393.0,233.3 393.4,232.5 393.9,230.5 394.4,228.8 394.8,227.5 395.3,228.1 395.8,230.4 396.3,231.1 396.7,229.5 397.2,227.7 397.7,227.4 398.2,226.1 398.6,227.9 399.1,231.7 399.6,231.6 400.2,229.0 400.7,230.1 401.2,231.0 401.7,231.2 402.2,232.1 402.7,232.2 403.2,233.7 403.7,233.1 404.2,232.2 404.8,231.6 405.3,228.9 405.8,228.6 406.3,229.4 406.8,230.0 407.3,229.3 407.8,231.2 408.3,231.5 408.8,230.1 409.4,230.3 409.9,230.5 410.3,230.8 410.7,232.5 411.1,233.3 411.5,233.1 411.9,234.1 412.2,234.8 412.6,236.2 413.0,236.6 413.4,236.8 413.8,236.4 414.2,235.6 414.6,236.2 414.9,237.2 415.3,238.0 415.7,236.8 416.1,238.6 416.5,241.5 416.9,241.2 417.2,241.2 417.5,242.5 417.9,241.9 418.2,239.2 418.5,238.9 418.8,240.3 419.2,244.5 419.5,243.7 419.8,243.2 420.1,245.4 420.4,246.8 420.8,247.3 421.1,244.4 421.4,244.0 421.7,247.8 422.1,250.1 422.4,249.9 422.7,247.8 423.0,247.1 423.2,247.9 423.5,248.2 423.7,248.3 424.0,246.0 424.2,244.0 424.5,242.9 424.7,242.9 424.9,242.0 425.2,242.4 425.4,244.7 425.7,245.8 425.9,243.5 426.2,243.3 426.4,241.5 426.7,240.7 426.9,241.3 427.2,238.7 427.4,238.9 427.7,240.7 427.9,238.7 428.1,237.0 428.4,239.5 428.6,239.4 428.9,236.7 429.1,236.1 429.4,237.4 429.6,238.1 429.9,237.5 430.1,236.2 430.4,236.2 430.6,232.5 430.9,230.8 431.4,233.3 432.0,233.8 432.5,231.1 433.0,229.9 433.6,231.8 434.1,230.2 434.6,231.7 435.2,231.3 435.7,231.0 436.2,232.2 436.7,229.2 437.3,228.3 437.8,228.1 438.3,230.0 438.9,230.0 439.4,228.2 439.9,228.4 440.4,228.0 440.9,227.8 441.5,227.3 442.0,228.1 442.5,231.2 443.0,230.7 443.6,228.8 444.1,229.1 444.5,230.5 444.9,232.2 445.3,232.3 445.7,229.6 446.1,227.2 446.5,227.0 447.0,230.3 447.4,231.1 447.8,229.9 448.2,227.1 448.6,228.7 449.0,228.8 449.4,227.4 449.9,228.1 450.3,228.8 450.7,228.5 451.1,225.1 451.5,224.9 451.9,225.5 452.4,225.8 453.0,226.8 453.5,223.5 454.0,221.2 454.6,222.5 455.1,223.7 455.6,222.9 456.2,223.3 456.7,225.4 457.2,224.8 457.8,221.2 458.3,219.8 458.8,220.9 459.4,220.5 459.9,220.0 460.3,223.7 460.6,224.6 460.9,225.6 461.2,227.6 461.5,226.9 461.9,226.4 462.2,225.8 462.5,225.1 462.8,227.7 463.1,227.2 463.5,225.7 463.8,228.4 464.1,228.0 464.4,228.7 464.7,232.0 465.1,231.0 465.3,229.6 465.6,226.9 465.9,225.9 466.1,226.1 466.4,226.6 466.7,227.0 466.9,228.4 467.2,226.4 467.5,224.3 467.7,225.6 468.0,224.8 468.3,222.6 468.5,222.0 468.8,222.6 469.1,222.1 469.3,222.7 469.6,223.6 469.9,222.3 470.2,219.8 470.7,221.1 471.2,219.9 471.7,218.5 472.1,219.3 472.6,219.7 473.1,220.9 473.6,222.1 474.1,223.6 474.5,221.7 475.0,222.4 475.5,224.5 476.0,223.9 476.4,223.1 476.9,222.2 477.4,222.7 477.9,223.3 478.4,224.6 478.9,225.0 479.4,223.0 479.9,220.8 480.4,223.0 480.9,225.2 481.4,223.0 481.8,220.9 482.3,221.3 482.8,224.4 483.3,225.1 483.8,222.3 484.3,221.2 484.8,222.7 485.3,221.3 485.9,223.0 486.4,223.0 487.0,220.5 487.5,217.4 488.0,217.7 488.6,217.8 489.1,218.7 489.7,221.2 490.2,222.1 490.8,220.1 491.3,219.9 491.9,220.6 492.3,220.4 492.8,220.4 493.2,221.1 493.6,218.8 494.1,217.4 494.5,217.9 495.0,218.7 495.4,217.0 495.8,215.5 496.3,217.5 496.7,217.5 497.2,217.8 497.6,218.3 498.1,217.3 498.5,217.0 498.9,214.0 499.4,214.1 499.8,215.2 500.3,214.6 500.8,213.8 501.2,212.0 501.7,211.6 502.2,211.7 502.7,211.4 503.1,210.2 503.6,209.7 504.1,209.3 504.6,210.7 505.1,209.8 505.5,207.7 506.0,209.7 506.5,211.8 507.0,211.4 507.2,211.0 507.5,208.5 507.8,206.9 508.0,207.2 508.3,206.4 508.6,205.4 508.8,204.1 509.1,203.0 509.4,202.6 509.6,203.2 509.9,202.8 510.1,202.4 510.4,202.9 510.7,204.5 510.9,204.9 511.2,201.8 511.5,202.6 511.7,204.0 512.0,202.2 512.2,199.9 512.5,198.5 512.8,201.0 513.1,203.2 513.4,202.8 513.8,204.0 514.2,204.8 514.6,205.3 515.0,203.3 515.4,201.3 515.8,202.9 516.2,205.3 516.6,203.6 517.0,200.4 517.3,202.3 517.7,203.0 518.1,201.1 518.5,202.1 518.9,203.5 519.4,205.7 519.9,207.2 520.4,205.3 520.9,202.3 521.4,204.5 521.9,204.4 522.4,204.7 522.9,205.2 523.4,206.1 523.9,207.4 524.4,206.4 524.9,207.7 525.4,205.1 525.9,204.4 526.5,205.2 527.0,205.9 527.6,207.2 528.1,209.1 528.7,208.3 529.2,206.4 529.8,206.7 530.3,207.8 530.9,210.9 531.4,209.0 531.9,209.3 532.5,210.6 533.0,208.2 533.6,210.3 534.1,210.3 534.4,207.2 534.7,209.7 535.0,211.9 535.3,209.9 535.6,210.6 535.9,213.2 536.2,213.9 536.5,214.2 536.8,213.7 537.1,215.0 537.4,216.1 537.7,215.7 538.0,213.7 538.3,213.1 538.7,213.7 539.0,214.5 539.3,218.1 539.6,220.1 539.9,220.3 540.2,220.4 540.6,221.7 540.9,222.0 541.3,220.0 541.6,219.9 542.0,221.4 542.3,219.5 542.7,220.7 543.0,222.2 543.4,222.3 543.7,223.5 544.1,223.9 544.4,222.2 544.8,222.1 545.2,225.9 545.5,225.8 545.9,223.0 546.3,222.0 546.7,222.0 547.1,222.1 547.5,220.0 547.9,218.6 548.3,219.8 548.7,219.4 549.0,219.4 549.4,222.1 549.8,221.5 550.2,218.3 550.7,219.6 551.2,220.9 551.6,218.6 552.1,216.6 552.5,217.0 553.0,218.6 553.5,218.9 553.9,218.5 554.4,217.9 554.8,218.7 555.3,218.0 555.7,214.6 556.2,215.6 556.7,218.1 557.1,218.0 557.6,217.1 558.0,217.8 558.5,217.6 558.9,215.8 559.4,216.2 559.9,217.1 560.3,218.8 560.8,217.8 561.2,215.2 561.7,215.7 562.1,217.4 562.6,216.7 563.0,217.4 563.4,218.4 563.8,215.6 564.3,215.6 564.7,216.5 565.1,216.8 565.5,215.9 565.9,214.1 566.4,216.3 566.8,218.3 567.2,216.0 567.6,215.5 568.1,217.4 568.5,215.8 569.0,212.2 569.5,211.4 570.0,213.1 570.4,213.5 570.9,212.9 571.4,210.6 571.8,211.1 572.3,211.2 572.8,210.5 573.2,209.9 573.7,210.6 574.1,214.4 574.6,212.4 575.0,209.8 575.5,210.5 575.9,213.6 576.4,215.1 576.8,212.7 577.3,211.8 577.7,214.7 578.2,216.1 578.6,214.9 579.1,216.6 579.5,217.8 580.0,219.6 580.3,217.6 580.6,213.8 581.0,215.6 581.3,215.2 581.6,212.5 582.0,212.9 582.3,212.3 582.6,212.0 582.9,212.7 583.3,212.7 583.6,210.0 583.9,208.2 584.3,207.8 584.6,208.7 584.9,212.2 585.3,213.0 585.6,212.6 585.9,209.4 586.3,208.8 586.6,207.2 587.0,206.4 587.4,209.2 587.7,209.1 588.1,208.5 588.5,205.1 588.8,202.6 589.2,202.3 589.6,203.8 589.9,205.6 590.3,205.4 590.7,205.0 591.0,204.7 591.4,203.6 591.8,202.2 592.1,200.7 592.5,201.6 592.9,201.8 593.2,198.4 593.6,197.7 593.9,198.1 594.4,201.0 594.9,200.3 595.3,196.8 595.8,197.8 596.2,200.0 596.7,201.8 597.1,202.9 597.6,200.8 598.1,199.6 598.5,200.0 599.0,201.2 599.4,205.2 599.9,205.4 600.3,204.3 600.7,202.8 601.1,203.0 601.5,202.6 601.9,200.9 602.2,198.3 602.6,196.4 603.0,195.9 603.4,198.4 603.8,200.3 604.2,198.3 604.6,196.8 605.0,198.3 605.4,197.6 605.7,197.6 606.1,197.4 606.4,197.5 606.7,197.9 607.0,198.8 607.3,197.7 607.6,195.8 607.8,198.6 608.1,202.3 608.4,200.9 608.7,201.9 609.0,205.0 609.3,203.1 609.6,202.7 609.9,206.2 610.2,206.2 610.5,205.9 610.8,207.3 611.1,206.9 611.5,207.4 611.9,207.5 612.3,206.5 612.8,204.7 613.2,206.3 613.6,208.6 614.0,209.0 614.5,208.5 614.9,206.6 615.3,208.5 615.7,211.2 616.2,211.1 616.6,208.4 617.0,208.5 617.4,209.6 617.9,210.0 618.3,208.0 618.7,208.3 619.1,208.2 619.6,206.6 620.0,208.4 620.4,206.0 620.9,206.4 621.3,206.4 621.7,205.5 622.1,206.0 622.4,204.0 622.7,204.2 623.0,206.3 623.3,210.0 623.6,209.8 623.9,208.7 624.2,207.2 624.6,207.3 624.9,210.5 625.2,212.5 625.5,212.8 625.8,210.8 626.1,208.7 626.6,208.5 627.0,208.4 627.4,209.2 627.9,211.8 628.3,212.0 628.8,213.1 629.2,211.2 629.6,208.6 630.1,210.2 630.5,209.1 631.0,206.8 631.4,206.3 631.8,205.9 632.3,205.4 632.7,207.1 633.2,206.6 633.6,204.0 634.0,204.5 634.4,204.7 634.8,205.9 635.2,207.3 635.6,209.0 636.0,209.9 636.4,209.6 636.8,209.5 637.1,211.0 637.5,211.9 637.9,208.8 638.3,211.0 638.7,213.3 639.1,210.3 639.5,211.8 639.9,214.4 640.3,212.4 640.6,212.8 641.0,214.5 641.4,212.7 641.8,212.7 642.3,216.0 642.8,215.3 643.2,212.2 643.7,213.7 644.2,213.7 644.7,211.9 645.2,214.4 645.7,215.4 646.2,213.2 646.7,211.4 647.2,211.4 647.7,212.3 648.2,210.3 648.7,208.6 649.2,209.6 649.6,209.8 650.1,209.9 650.5,209.5 650.9,208.9 651.3,209.0 651.7,209.2 652.1,211.2 652.4,215.2 652.8,215.9 653.2,212.8 653.6,213.3 654.0,217.0 654.4,215.8 654.8,214.3 655.2,217.3 655.6,219.1 655.9,217.4 656.3,218.2 656.7,219.6 657.1,217.9 657.3,218.9 657.6,219.0 657.9,218.5 658.1,216.2 658.4,213.6 658.7,212.1 658.9,211.2 659.2,211.1 659.4,212.3 659.7,211.1 660.0,211.7 660.2,213.7 660.5,213.2 660.8,209.7 661.0,207.1 661.3,209.4 661.6,210.8 661.8,207.4 662.1,208.4 662.3,210.4 662.6,207.8 662.9,207.7 663.2,206.7 663.6,206.9 664.0,207.9 664.4,206.4 664.8,203.6 665.1,203.0 665.5,204.7 665.9,204.3 666.3,201.8 666.7,201.5 667.1,200.1 667.5,198.7 667.9,198.7 668.3,198.5 668.6,200.5 669.0,203.6 669.4,204.2 669.8,204.6 670.2,206.0 670.6,204.7 671.0,202.1 671.4,202.3 671.8,203.0 672.2,204.4 672.5,204.3 672.9,202.9 673.3,205.2 673.7,205.7 674.1,206.2 674.5,209.8 674.9,210.0 675.3,207.7 675.7,208.6 676.0,210.0 676.5,209.7 676.9,210.7 677.4,210.2 677.8,208.6 678.2,209.2 678.7,208.4 679.1,207.3 679.6,205.7 680.0,204.7 680.5,207.5 681.0,208.3 681.4,208.1 681.9,208.4 682.4,208.6 682.9,206.2 683.4,202.6 683.8,202.1 684.3,201.9 684.8,203.9 685.3,204.0 685.7,201.2 686.2,200.0 686.7,201.7 687.1,202.1 687.4,201.5 687.7,204.7 688.0,205.5 688.3,202.4 688.6,201.5 688.9,203.1 689.1,203.8 689.4,206.2 689.7,206.3 690.0,206.8 690.3,207.5 690.6,204.6 690.9,204.6 691.2,207.4 691.5,207.8 691.8,207.1 692.1,211.1 692.4,209.0 692.7,207.4 693.1,209.3 693.4,212.8 693.7,214.7 694.1,214.7 694.4,213.2 694.7,214.0 695.0,216.9 695.4,215.5 695.7,216.5 696.0,215.5 696.4,214.7 696.7,217.9 697.0,216.3 697.4,216.5 697.7,216.5 698.0,216.0 698.3,217.7 698.6,215.8 698.9,213.8 699.2,213.2 699.5,214.5 699.8,214.2 700.2,213.7 700.5,216.4 700.8,213.5 701.1,213.0 701.4,215.8 701.7,212.5 702.0,211.2 702.3,210.1 702.6,208.4 702.9,208.4 703.2,206.7 703.5,207.5 703.8,208.4 704.1,206.8 704.5,205.6 704.9,206.5 705.2,209.5 705.6,210.2 705.9,208.0 706.3,207.2 706.6,206.3 707.0,203.0 707.4,204.6 707.7,204.9 708.1,203.5 708.4,204.7 708.8,202.9 709.2,203.1 709.5,202.7 709.9,200.8 710.1,199.9 710.4,200.1 710.6,200.0 710.8,198.3 711.0,197.7 711.3,198.8 711.5,198.8 711.7,197.9 711.9,197.0 712.2,196.8 712.4,197.3 712.6,194.9 712.8,193.9 713.0,195.7 713.3,195.5 713.5,194.0 713.7,193.2 713.9,193.1 714.2,193.3 714.4,190.1 714.6,190.1 714.8,191.1 715.0,188.1 715.2,187.7 715.5,188.1 715.7,187.6 715.9,187.7 716.1,187.6 716.3,186.2 716.5,185.5 716.7,187.6 717.0,186.5 717.2,182.8 717.4,184.7 717.7,187.8 717.9,188.2 718.2,188.8 718.5,189.6 718.8,188.5 719.0,189.9 719.3,189.4 719.6,187.9 719.9,188.9 720.1,189.9 720.4,189.7 720.7,191.2 721.0,194.1 721.2,192.0 721.5,192.9 721.8,195.3 722.1,194.5 722.6,193.0 723.1,195.3 723.6,197.0 724.1,194.5 724.5,192.9 725.0,196.1 725.5,195.4 726.0,192.1 726.5,192.2 727.0,192.3 727.5,193.4 728.0,195.9 728.2,194.5 728.5,195.2 728.7,197.6 729.0,196.0 729.2,196.9 729.5,200.4 729.7,200.1 730.0,201.4 730.2,202.8 730.5,201.4 730.7,203.1 731.0,204.4 731.2,202.6 731.4,202.3 731.7,202.0 731.9,201.2 732.3,203.5 732.8,206.0 733.3,204.9 733.7,205.7 734.2,206.0 734.6,206.0 735.1,207.2 735.5,207.0 736.0,208.4 736.5,209.6 736.9,208.8 737.4,206.4 737.8,205.9 738.3,205.3 738.7,208.3 739.2,208.8 739.6,207.4 740.1,207.8 740.5,207.6 741.0,210.0 741.4,211.4 741.9,211.5 742.3,211.6 742.8,210.5 743.2,211.2 743.7,211.4 744.1,211.9 744.6,213.0 745.0,214.2" fill="none" stroke="#ffa500" stroke-width="9.4" stroke-linecap="round" stroke-linejoin="round"/>
</g>
<rect x="585" y="402.2" width="348" height="106" rx="4.5" fill="#fff" fill-opacity="0.8" stroke="#dadada" stroke-width="2"/>
<line x1="594" y1="429.2" x2="656" y2="429.2" stroke="#000" stroke-width="2.3"/><circle cx="625.8" cy="429.2" r="3.5" fill="#000"/><text x="681" y="439.6" font-family="'DejaVu Sans','Liberation Sans',sans-serif" font-size="28.8" fill="#111"><tspan font-style="italic">Li</tspan><tspan font-style="italic">/</tspan><tspan font-style="italic">Li</tspan><tspan font-size="20.4" dy="5.9">2</tspan><tspan font-style="italic" dy="-5.9" dx="0.8">O</tspan><tspan font-style="italic" dx="9.8">σ</tspan><tspan dx="6.7">=</tspan><tspan dx="6.1">0</tspan><tspan font-style="italic">MPa</tspan></text>
<line x1="594" y1="478.0" x2="656" y2="478.0" stroke="#ffa500" stroke-width="2.3"/><circle cx="625.8" cy="478.0" r="3.5" fill="#ffa500"/><text x="681" y="488.4" font-family="'DejaVu Sans','Liberation Sans',sans-serif" font-size="28.8" fill="#111"><tspan font-style="italic">Li</tspan><tspan font-style="italic">/</tspan><tspan font-style="italic">Li</tspan><tspan font-size="20.4" dy="5.9">2</tspan><tspan font-style="italic" dy="-5.9" dx="0.8">O</tspan><tspan font-style="italic" dx="9.8">σ</tspan><tspan dx="6.7">=</tspan><tspan dx="6.1">1</tspan><tspan font-style="italic">MPa</tspan></text>
<!-- panel b -->
<rect x="241.8" y="692.4" width="730.4" height="532.5" fill="#fff" stroke="#5c5c5c" stroke-width="1.9"/>
<g stroke="#5c5c5c" stroke-width="1.9"><line x1="250.0" y1="1224.9" x2="250.0" y2="1230.9"/><line x1="393.7" y1="1224.9" x2="393.7" y2="1230.9"/><line x1="537.3" y1="1224.9" x2="537.3" y2="1230.9"/><line x1="683.2" y1="1224.9" x2="683.2" y2="1230.9"/><line x1="826.8" y1="1224.9" x2="826.8" y2="1230.9"/><line x1="972.1" y1="1224.9" x2="972.1" y2="1230.9"/><line x1="241.8" y1="1224.9" x2="236.2" y2="1224.9"/><line x1="241.8" y1="1158.1" x2="236.2" y2="1158.1"/><line x1="241.8" y1="1091.1" x2="236.2" y2="1091.1"/><line x1="241.8" y1="1024.2" x2="236.2" y2="1024.2"/><line x1="241.8" y1="958.1" x2="236.2" y2="958.1"/><line x1="241.8" y1="891.9" x2="236.2" y2="891.9"/><line x1="241.8" y1="825.0" x2="236.2" y2="825.0"/><line x1="241.8" y1="758.0" x2="236.2" y2="758.0"/><line x1="241.8" y1="692.4" x2="236.2" y2="692.4"/></g>
<g font-family="'DejaVu Sans','Liberation Sans',sans-serif" font-size="28.8" fill="#111"><text x="248.3" y="1258.8" text-anchor="middle" letter-spacing="0">0</text><text x="392.4" y="1258.8" text-anchor="middle" letter-spacing="-1.3">20</text><text x="536.9" y="1258.8" text-anchor="middle" letter-spacing="-1.3">40</text><text x="681.6" y="1258.8" text-anchor="middle" letter-spacing="-1.3">60</text><text x="825.1" y="1258.8" text-anchor="middle" letter-spacing="-1.3">80</text><text x="971.1" y="1258.8" text-anchor="middle" letter-spacing="0.6">100</text><text x="228.5" y="703.3" text-anchor="end" letter-spacing="-1.3">40</text><text x="228.5" y="770.2" text-anchor="end" letter-spacing="-1.3">35</text><text x="228.5" y="837.1" text-anchor="end" letter-spacing="-1.3">30</text><text x="228.5" y="904.4" text-anchor="end" letter-spacing="-1.3">25</text><text x="228.5" y="969.5" text-anchor="end" letter-spacing="-1.3">20</text><text x="228.5" y="1036.8" text-anchor="end" letter-spacing="-1.3">15</text><text x="228.5" y="1104.1" text-anchor="end" letter-spacing="-1.3">10</text><text x="229.8" y="1171.1" text-anchor="end" letter-spacing="0">5</text><text x="229.8" y="1236.3" text-anchor="end" letter-spacing="0">0</text><text x="606.7" y="1294.1" text-anchor="middle" textLength="138.2" lengthAdjust="spacing">Time (ps)</text><text transform="translate(127.9,678.0) rotate(-90)"><tspan x="-463.7" letter-spacing="1.41">Distance </tspan><tspan x="-318.4" letter-spacing="0.42">from </tspan><tspan x="-240.7" letter-spacing="0.46">interface</tspan></text><text transform="translate(174.2,960.8) rotate(-90)" text-anchor="middle" letter-spacing="0.5">(average,<tspan font-style="italic">Å</tspan>)</text></g>
<clipPath id="cb"><rect x="241.8" y="692.4" width="730.4" height="532.5"/></clipPath>
<g clip-path="url(#cb)">
<polyline points="249.7,1180.8 250.3,1180.9 250.8,1181.1 251.4,1181.0 251.9,1180.9 252.5,1180.8 253.0,1180.8 253.6,1180.9 254.1,1180.6 254.7,1180.5 255.2,1180.8 255.8,1181.1 256.3,1181.1 256.9,1180.5 257.4,1180.2 258.0,1180.4 258.5,1180.2 259.1,1180.5 259.6,1180.7 260.2,1180.5 260.7,1180.1 261.3,1179.9 261.8,1179.8 262.4,1179.6 262.9,1179.9 263.5,1179.7 264.0,1179.5 264.6,1179.4 265.1,1179.4 265.7,1179.3 266.2,1179.3 266.7,1179.2 267.3,1178.7 267.8,1179.1 268.4,1179.1 268.9,1178.7 269.5,1178.5 270.0,1178.6 270.6,1178.6 271.1,1178.7 271.7,1178.9 272.2,1178.7 272.8,1178.7 273.3,1178.6 273.8,1178.6 274.4,1179.2 274.9,1179.7 275.4,1179.5 276.0,1179.2 276.5,1179.8 277.1,1180.0 277.6,1179.8 278.1,1179.8 278.7,1180.2 279.2,1180.4 279.8,1180.4 280.3,1180.6 280.8,1180.4 281.4,1181.2 281.9,1181.3 282.5,1181.3 283.0,1181.5 283.6,1181.7 284.1,1181.9 284.6,1181.9 285.2,1182.3 285.7,1182.2 286.3,1182.0 286.8,1182.6 287.4,1182.6 287.9,1182.4 288.4,1182.9 289.0,1183.0 289.5,1183.0 290.1,1182.7 290.6,1182.3 291.2,1181.8 291.7,1181.8 292.3,1181.9 292.8,1181.5 293.3,1181.4 293.9,1181.1 294.4,1181.3 295.0,1181.4 295.5,1180.9 296.1,1180.5 296.6,1180.5 297.1,1180.7 297.7,1180.8 298.2,1180.8 298.8,1180.4 299.3,1180.7 299.9,1180.8 300.4,1180.7 300.9,1181.2 301.5,1181.6 302.0,1182.0 302.6,1181.7 303.1,1181.6 303.7,1181.9 304.2,1181.3 304.8,1181.4 305.3,1181.9 305.8,1181.9 306.4,1181.9 306.9,1182.3 307.5,1182.5 308.0,1182.5 308.5,1182.3 309.1,1181.5 309.6,1181.4 310.2,1181.6 310.7,1181.2 311.2,1180.6 311.8,1180.5 312.3,1180.7 312.9,1180.5 313.4,1180.2 313.9,1180.0 314.5,1180.0 315.0,1180.3 315.5,1179.9 316.1,1180.1 316.6,1180.4 317.2,1180.2 317.7,1180.4 318.3,1180.7 318.8,1180.8 319.4,1180.7 319.9,1180.6 320.5,1180.4 321.0,1180.6 321.5,1180.5 322.1,1180.4 322.6,1180.8 323.2,1181.0 323.7,1181.1 324.3,1181.8 324.8,1182.0 325.4,1181.6 325.9,1181.6 326.4,1182.1 326.9,1182.3 327.4,1182.4 327.9,1183.0 328.4,1183.1 328.9,1183.3 329.4,1183.9 329.9,1183.7 330.4,1183.4 330.9,1183.5 331.5,1183.7 332.0,1183.2 332.5,1183.1 333.1,1183.0 333.6,1182.5 334.1,1182.3 334.7,1182.6 335.2,1182.9 335.7,1182.6 336.3,1182.3 336.8,1181.8 337.3,1181.6 337.9,1181.6 338.4,1181.5 338.9,1181.3 339.5,1181.2 340.0,1181.2 340.5,1180.9 341.1,1180.7 341.6,1180.4 342.1,1180.3 342.7,1180.7 343.2,1180.9 343.8,1180.6 344.3,1180.7 344.9,1180.9 345.4,1181.0 345.9,1181.5 346.5,1181.5 347.0,1181.6 347.6,1181.5 348.1,1181.7 348.7,1181.9 349.2,1181.8 349.7,1181.4 350.3,1181.8 350.8,1182.1 351.4,1181.6 351.9,1181.5 352.5,1181.6 353.0,1181.6 353.6,1181.7 354.1,1181.4 354.7,1181.7 355.2,1181.8 355.8,1182.0 356.3,1182.3 356.9,1182.0 357.4,1181.8 358.0,1181.7 358.5,1181.9 359.0,1182.3 359.6,1182.2 360.1,1182.3 360.7,1182.6 361.2,1182.4 361.8,1182.4 362.3,1182.5 362.9,1182.9 363.4,1183.0 364.0,1183.2 364.5,1183.5 365.1,1183.4 365.6,1183.9 366.2,1184.2 366.7,1183.9 367.3,1183.5 367.8,1183.7 368.4,1183.5 368.9,1183.2 369.5,1183.5 370.0,1183.4 370.6,1183.2 371.1,1182.8 371.7,1182.5 372.2,1182.5 372.8,1182.6 373.3,1182.3 373.8,1181.8 374.4,1182.1 374.9,1182.6 375.5,1182.2 376.0,1182.3 376.6,1182.7 377.1,1182.3 377.7,1182.2 378.2,1182.4 378.8,1182.7 379.3,1183.3 379.9,1183.3 380.4,1183.1 381.0,1183.1 381.5,1182.8 382.1,1183.4 382.6,1183.8 383.2,1183.5 383.7,1183.1 384.3,1183.5 384.8,1183.9 385.4,1183.8 385.9,1183.3 386.5,1183.4 387.0,1183.7 387.6,1184.1 388.1,1183.7 388.7,1183.6 389.2,1184.0 389.8,1183.7 390.3,1183.5 390.9,1183.2 391.4,1183.2 392.0,1183.6 392.5,1183.5 393.1,1183.3 393.6,1183.5 394.2,1183.2 394.7,1183.1 395.3,1183.2 395.8,1183.1 396.4,1183.3 396.9,1183.3 397.5,1183.3 402.7,1181.6 411.8,1182.6 420.0,1184.0 429.8,1183.7 939.5,1184.6 972.5,1184.4" fill="none" stroke="#000" stroke-width="2.1" stroke-linejoin="round"/>
<polyline points="249.7,1180.8 250.3,1180.9 250.8,1181.1 251.4,1181.0 251.9,1180.9 252.5,1180.8 253.0,1180.8 253.6,1180.9 254.1,1180.6 254.7,1180.5 255.2,1180.8 255.8,1181.1 256.3,1181.1 256.9,1180.5 257.4,1180.2 258.0,1180.4 258.5,1180.2 259.1,1180.5 259.6,1180.7 260.2,1180.5 260.7,1180.1 261.3,1179.9 261.8,1179.8 262.4,1179.6 262.9,1179.9 263.5,1179.7 264.0,1179.5 264.6,1179.4 265.1,1179.4 265.7,1179.3 266.2,1179.3 266.7,1179.2 267.3,1178.7 267.8,1179.1 268.4,1179.1 268.9,1178.7 269.5,1178.5 270.0,1178.6 270.6,1178.6 271.1,1178.7 271.7,1178.9 272.2,1178.7 272.8,1178.7 273.3,1178.6 273.8,1178.6 274.4,1179.2 274.9,1179.7 275.4,1179.5 276.0,1179.2 276.5,1179.8 277.1,1180.0 277.6,1179.8 278.1,1179.8 278.7,1180.2 279.2,1180.4 279.8,1180.4 280.3,1180.6 280.8,1180.4 281.4,1181.2 281.9,1181.3 282.5,1181.3 283.0,1181.5 283.6,1181.7 284.1,1181.9 284.6,1181.9 285.2,1182.3 285.7,1182.2 286.3,1182.0 286.8,1182.6 287.4,1182.6 287.9,1182.4 288.4,1182.9 289.0,1183.0 289.5,1183.0 290.1,1182.7 290.6,1182.3 291.2,1181.8 291.7,1181.8 292.3,1181.9 292.8,1181.5 293.3,1181.4 293.9,1181.1 294.4,1181.3 295.0,1181.4 295.5,1180.9 296.1,1180.5 296.6,1180.5 297.1,1180.7 297.7,1180.8 298.2,1180.8 298.8,1180.4 299.3,1180.7 299.9,1180.8 300.4,1180.7 300.9,1181.2 301.5,1181.6 302.0,1182.0 302.6,1181.7 303.1,1181.6 303.7,1181.9 304.2,1181.3 304.8,1181.4 305.3,1181.9 305.8,1181.9 306.4,1181.9 306.9,1182.3 307.5,1182.5 308.0,1182.5 308.5,1182.3 309.1,1181.5 309.6,1181.4 310.2,1181.6 310.7,1181.2 311.2,1180.6 311.8,1180.5 312.3,1180.7 312.9,1180.5 313.4,1180.2 313.9,1180.0 314.5,1180.0 315.0,1180.3 315.5,1179.9 316.1,1180.1 316.6,1180.4 317.2,1180.2 317.7,1180.4 318.3,1180.7 318.8,1180.8 319.4,1180.7 319.9,1180.6 320.5,1180.4 321.0,1180.6 321.5,1180.5 322.1,1180.4 322.6,1180.8 323.2,1181.0 323.7,1181.1 324.3,1181.8 324.8,1182.0 325.4,1181.6 325.9,1181.6 326.4,1182.1 326.9,1182.3 327.4,1182.4 327.9,1183.0 328.4,1183.1 328.9,1183.3 329.4,1183.9 329.9,1183.7 330.4,1183.4 330.9,1183.5 331.5,1183.7 332.0,1183.2 332.5,1183.1 333.1,1183.0 333.6,1182.5 334.1,1182.3 334.7,1182.6 335.2,1182.9 335.7,1182.6 336.3,1182.3 336.8,1181.8 337.3,1181.6 337.9,1181.6" fill="none" stroke="#000" stroke-width="6.9" stroke-linecap="round" stroke-linejoin="round"/>
<polyline points="336.3,1182.3 336.8,1181.8 337.3,1181.6 337.9,1181.6 338.4,1181.5 338.9,1181.3 339.5,1181.2 340.0,1181.2 340.5,1180.9 341.1,1180.7 341.6,1180.4 342.1,1180.3 342.7,1180.7 343.2,1180.9 343.8,1180.6 344.3,1180.7 344.9,1180.9 345.4,1181.0 345.9,1181.5 346.5,1181.5 347.0,1181.6 347.6,1181.5 348.1,1181.7 348.7,1181.9 349.2,1181.8 349.7,1181.4 350.3,1181.8 350.8,1182.1 351.4,1181.6 351.9,1181.5 352.5,1181.6 353.0,1181.6 353.6,1181.7 354.1,1181.4 354.7,1181.7 355.2,1181.8 355.8,1182.0 356.3,1182.3 356.9,1182.0 357.4,1181.8 358.0,1181.7 358.5,1181.9 359.0,1182.3 359.6,1182.2 360.1,1182.3 360.7,1182.6 361.2,1182.4 361.8,1182.4 362.3,1182.5 362.9,1182.9 363.4,1183.0 364.0,1183.2 364.5,1183.5 365.1,1183.4 365.6,1183.9 366.2,1184.2 366.7,1183.9 367.3,1183.5 367.8,1183.7 368.4,1183.5 368.9,1183.2 369.5,1183.5 370.0,1183.4 370.6,1183.2 371.1,1182.8 371.7,1182.5 372.2,1182.5 372.8,1182.6 373.3,1182.3 373.8,1181.8 374.4,1182.1 374.9,1182.6 375.5,1182.2 376.0,1182.3 376.6,1182.7 377.1,1182.3 377.7,1182.2 378.2,1182.4 378.8,1182.7 379.3,1183.3 379.9,1183.3 380.4,1183.1 381.0,1183.1 381.5,1182.8 382.1,1183.4 382.6,1183.8 383.2,1183.5 383.7,1183.1 384.3,1183.5 384.8,1183.9 385.4,1183.8 385.9,1183.3 386.5,1183.4 387.0,1183.7 387.6,1184.1 388.1,1183.7 388.7,1183.6 389.2,1184.0 389.8,1183.7 390.3,1183.5 390.9,1183.2 391.4,1183.2 392.0,1183.6 392.5,1183.5 393.1,1183.3 393.6,1183.5 394.2,1183.2 394.7,1183.1 395.3,1183.2 395.8,1183.1 396.4,1183.3 396.9,1183.3 397.5,1183.3" fill="none" stroke="#000" stroke-width="5.3" stroke-linecap="round" stroke-linejoin="round" stroke-dasharray="9 1.2 6 0.9 11 1.4 7 1"/>
<circle cx="402.7" cy="1181.6" r="3.0" fill="#000"/><circle cx="411.8" cy="1182.6" r="3.0" fill="#000"/><circle cx="420" cy="1184" r="3.0" fill="#000"/><circle cx="429.8" cy="1183.7" r="3.0" fill="#000"/><circle cx="939.5" cy="1185.6" r="3.0" fill="#000"/>
<polyline points="249.7,1179.2 249.9,1178.6 250.1,1179.1 250.3,1177.7 250.6,1176.8 250.8,1177.1 251.0,1176.4 251.2,1175.5 251.4,1174.1 251.6,1173.1 251.8,1173.9 252.1,1173.0 252.3,1172.2 252.5,1173.5 252.7,1172.3 252.9,1170.8 253.1,1170.4 253.3,1169.9 253.5,1170.8 253.7,1170.9 253.9,1170.3 254.1,1168.5 254.2,1167.6 254.4,1167.8 254.6,1167.1 254.8,1166.0 254.9,1166.2 255.1,1165.9 255.3,1163.8 255.5,1163.5 255.6,1164.5 255.8,1164.8 256.0,1163.6 256.2,1163.0 256.3,1163.2 256.5,1163.2 256.7,1162.6 256.8,1162.1 257.0,1160.7 257.2,1158.7 257.4,1157.8 257.6,1157.5 257.8,1156.5 257.9,1155.8 258.1,1156.8 258.3,1155.2 258.5,1154.4 258.7,1154.6 258.9,1152.7 259.0,1152.5 259.2,1153.6 259.4,1153.2 259.6,1152.1 259.8,1150.5 260.0,1149.7 260.2,1149.4 260.3,1149.9 260.5,1150.0 260.7,1149.6 260.9,1150.1 261.1,1149.0 261.3,1148.6 261.5,1147.4 261.7,1145.6 261.8,1145.0 262.0,1144.7 262.2,1145.6 262.4,1144.4 262.6,1142.8 262.8,1142.9 263.0,1142.9 263.2,1141.4 263.3,1141.1 263.5,1141.7 263.7,1140.1 263.9,1139.2 264.3,1139.5 264.7,1140.0 265.0,1139.0 265.4,1137.7 265.8,1137.7 266.2,1138.7 266.5,1138.6 266.9,1138.6 267.3,1137.1 267.7,1135.2 268.0,1134.7 268.4,1134.3 268.8,1135.0 269.1,1135.0 269.5,1133.3 269.9,1133.9 270.4,1135.2 270.8,1133.7 271.3,1132.3 271.8,1133.1 272.2,1134.1 272.7,1134.1 273.1,1132.6 273.6,1131.6 274.1,1131.3 274.5,1130.2 275.0,1129.7 275.4,1130.2 275.9,1130.8 276.3,1129.0 276.8,1127.8 277.3,1128.4 277.7,1127.6 278.1,1127.1 278.5,1127.1 278.8,1125.8 279.2,1126.0 279.6,1126.0 279.9,1124.6 280.3,1124.2 280.7,1124.0 281.0,1123.5 281.4,1123.9 281.8,1124.2 282.1,1123.4 282.5,1124.1 282.9,1123.6 283.2,1121.8 283.6,1121.6 283.9,1121.3 284.3,1120.4 284.7,1120.1 285.0,1120.2 285.3,1120.8 285.6,1119.6 285.9,1118.7 286.2,1118.5 286.5,1117.9 286.7,1117.2 287.0,1117.3 287.3,1118.3 287.6,1116.9 287.9,1116.5 288.2,1116.8 288.4,1116.0 288.7,1115.3 289.0,1115.0 289.3,1114.5 289.6,1113.9 289.8,1112.8 290.1,1112.6 290.4,1112.6 290.9,1111.0 291.4,1110.1 291.8,1110.3 292.3,1109.5 292.8,1110.1 293.2,1109.6 293.7,1109.1 294.2,1109.3 294.6,1108.8 295.1,1110.2 295.6,1109.4 296.0,1108.7 296.5,1109.1 297.0,1108.0 297.4,1106.8 297.9,1107.0 298.3,1106.8 298.8,1105.6 299.2,1105.0 299.7,1104.4 300.1,1104.9 300.6,1105.4 301.0,1104.7 301.5,1103.7 301.9,1103.7 302.4,1104.6 302.8,1104.0 303.3,1103.3 303.7,1103.3 304.1,1103.4 304.4,1101.8 304.7,1099.6 305.0,1100.1 305.3,1099.2 305.7,1099.5 306.0,1099.9 306.3,1097.6 306.6,1098.5 306.9,1098.5 307.2,1097.6 307.5,1098.7 307.9,1097.6 308.2,1096.8 308.5,1095.9 308.8,1094.0 309.1,1094.1 309.4,1094.9 309.8,1095.2 310.1,1094.8 310.4,1093.3 310.7,1092.4 311.1,1092.5 311.4,1092.8 311.8,1092.0 312.1,1091.2 312.4,1091.2 312.8,1090.0 313.1,1090.0 313.4,1090.9 313.8,1090.5 314.1,1088.6 314.5,1087.2 314.8,1088.1 315.1,1089.3 315.5,1088.4 315.8,1088.2 316.1,1087.3 316.5,1086.6 316.8,1086.9 317.2,1086.0 317.5,1085.1 317.8,1084.2 318.2,1082.9 318.5,1083.8 318.9,1083.5 319.2,1082.3 319.6,1081.9 319.9,1080.2 320.2,1079.4 320.6,1079.7 320.9,1079.2 321.3,1079.7 321.6,1080.1 321.9,1079.0 322.3,1078.6 322.6,1077.2 323.0,1076.9 323.3,1075.6 323.6,1074.1 324.0,1074.4 324.3,1073.9 324.7,1073.7 325.0,1075.5 325.3,1073.5 325.5,1071.2 325.7,1070.8 326.0,1072.2 326.2,1071.8 326.4,1071.3 326.6,1072.1 326.9,1071.0 327.1,1068.4 327.3,1069.1 327.6,1071.1 327.8,1070.7 328.0,1069.4 328.3,1068.6 328.5,1068.9 328.7,1068.5 328.9,1068.1 329.2,1066.7 329.4,1063.9 329.6,1064.2 329.9,1064.4 330.1,1062.9 330.3,1064.4 330.6,1064.9 330.8,1064.2 331.0,1060.6 331.2,1058.7 331.5,1058.0 331.7,1057.5 331.9,1057.8 332.3,1057.7 332.7,1057.9 333.1,1058.3 333.6,1057.2 334.0,1055.9 334.4,1057.6 334.8,1059.2 335.2,1058.0 335.6,1057.1 336.1,1055.4 336.5,1055.8 336.9,1054.4 337.3,1052.3 337.7,1054.6 338.1,1055.3 338.6,1052.2 339.0,1051.4 339.4,1051.3 339.8,1051.1 340.1,1052.8 340.3,1052.4 340.6,1050.5 340.8,1051.2 341.0,1050.2 341.2,1049.2 341.4,1050.5 341.6,1049.2 341.9,1049.8 342.1,1050.0 342.3,1047.3 342.5,1046.7 342.7,1047.9 342.9,1045.4 343.2,1043.6 343.4,1043.4 343.6,1042.1 343.8,1042.1 344.0,1042.0 344.3,1041.0 344.5,1040.5 344.7,1041.1 344.9,1042.4 345.1,1043.4 345.3,1041.6 345.6,1039.1 345.8,1039.9 346.0,1042.2 346.2,1041.8 346.4,1040.8 346.7,1037.6 346.9,1036.1 347.2,1037.6 347.5,1036.0 347.8,1032.9 348.1,1034.6 348.4,1036.9 348.8,1034.3 349.1,1033.4 349.4,1036.0 349.7,1033.3 350.0,1031.9 350.3,1031.5 350.7,1032.0 351.0,1032.4 351.3,1029.6 351.6,1031.3 351.9,1030.5 352.2,1029.1 352.6,1030.9 353.0,1028.2 353.4,1026.9 353.9,1028.5 354.3,1032.6 354.7,1031.9 355.2,1031.4 355.6,1032.8 356.0,1031.2 356.5,1030.3 356.9,1032.6 357.3,1033.6 357.5,1029.7 357.7,1029.4 357.9,1030.8 358.1,1031.1 358.3,1031.7 358.5,1029.9 358.7,1027.4 358.9,1025.6 359.1,1024.3 359.3,1023.8 359.5,1024.9 359.7,1027.3 359.9,1027.1 360.1,1024.1 360.2,1023.0 360.4,1024.8 360.6,1023.0 360.8,1020.3 361.0,1022.4 361.2,1024.6 361.4,1023.1 361.6,1021.5 361.8,1018.7 362.0,1018.1 362.2,1017.7 362.4,1017.1 362.6,1017.1 362.8,1019.7 363.1,1017.4 363.6,1016.5 364.1,1018.4 364.6,1017.6 365.1,1016.8 365.6,1017.6 366.1,1018.6 366.6,1018.4 367.1,1018.0 367.6,1016.3 368.1,1014.4 368.6,1013.7 369.2,1013.3 369.7,1012.9 370.2,1014.8 370.7,1015.4 371.2,1014.7 371.6,1013.9 372.1,1014.2 372.5,1014.3 373.0,1013.1 373.4,1014.3 373.9,1011.3 374.4,1011.5 374.8,1014.5 375.3,1014.2 375.7,1010.6 376.2,1008.1 376.7,1007.9 377.1,1007.8 377.6,1010.5 378.0,1012.0 378.3,1010.2 378.7,1011.8 379.0,1012.3 379.4,1010.6 379.7,1007.3 380.0,1005.9 380.4,1008.6 380.7,1008.2 381.1,1003.4 381.4,1003.6 381.8,1004.5 382.1,1004.6 382.4,1006.0 382.6,1003.9 382.8,1004.4 382.9,1005.9 383.0,1004.1 383.2,1006.8 383.3,1010.0 383.5,1008.3 383.6,1007.9 383.7,1007.1 383.9,1005.5 384.0,1005.4 384.2,1008.5 384.3,1011.9 384.4,1011.2 384.6,1007.8 384.7,1007.9 384.9,1007.7 385.0,1007.8 385.2,1008.6 385.3,1009.7 385.4,1012.7 385.6,1012.7 385.7,1010.3 385.9,1014.2 386.0,1017.5 386.1,1013.6 386.3,1013.7 386.4,1017.2 386.6,1016.6 386.7,1017.8 386.8,1020.4 387.0,1021.1 387.1,1024.1 387.3,1024.6 387.4,1023.3 387.5,1025.7 387.7,1027.2 387.8,1027.8 388.0,1026.7 388.1,1027.3 388.3,1028.4 388.6,1023.1 389.0,1024.2 389.5,1026.6 389.9,1023.5 390.4,1024.3 390.8,1025.0 391.3,1023.4 391.7,1020.8 392.2,1019.6 392.6,1022.5 393.1,1023.5 393.5,1023.9 393.9,1023.3 394.4,1022.3 394.8,1023.9 395.3,1022.9 395.7,1019.4 396.2,1017.9 396.6,1020.1 396.9,1021.3 397.3,1020.8 397.6,1018.3 398.0,1017.4 398.4,1019.9 398.7,1019.3 399.1,1019.3 399.5,1016.8 399.8,1013.6 400.2,1015.2 400.6,1016.8 400.9,1015.7 401.3,1014.8 401.7,1015.1 402.0,1012.8 402.4,1009.9 402.7,1007.8 403.1,1009.1 403.5,1011.2 403.8,1009.7 404.2,1010.1 404.6,1012.7 405.2,1013.9 405.7,1011.9 406.3,1011.0 406.8,1011.1 407.4,1009.3 407.9,1012.0 408.4,1014.2 409.0,1013.8 409.5,1014.3 410.1,1011.9 410.6,1011.2 411.2,1012.5 411.7,1013.4 412.3,1014.6 412.7,1011.3 413.2,1010.9 413.6,1010.3 414.0,1006.0 414.4,1004.7 414.9,1004.0 415.3,1006.6 415.7,1008.0 416.2,1004.9 416.6,1003.1 417.0,1004.4 417.5,1007.7 417.9,1008.8 418.3,1008.7 418.7,1008.6 419.2,1006.7 419.6,1004.7 420.0,1008.2 420.4,1011.3 420.8,1010.0 421.2,1008.4 421.6,1008.6 422.1,1009.8 422.5,1008.1 422.9,1007.9 423.3,1009.0 423.7,1010.8 424.1,1010.1 424.5,1010.3 425.0,1011.8 425.4,1011.1 425.8,1013.3 426.2,1017.9 426.6,1017.5 427.0,1017.9 427.4,1016.6 427.7,1012.7 427.9,1013.8 428.2,1012.4 428.5,1011.1 428.7,1013.0 429.0,1011.0 429.2,1007.9 429.5,1009.1 429.7,1010.3 430.0,1009.3 430.2,1008.9 430.4,1006.2 430.6,1006.1 430.8,1009.7 431.0,1006.6 431.2,1003.4 431.4,1006.9 431.6,1004.4 431.8,1004.0 432.0,1004.6 432.2,1004.4 432.4,1004.7 432.7,1003.0 432.9,1000.9 433.1,1000.8 433.3,999.5 433.5,995.8 433.7,997.7 434.0,996.2 434.2,994.1 434.4,995.0 434.6,995.7 434.9,998.5 435.1,999.8 435.3,998.4 435.6,998.2 435.8,996.6 436.0,993.6 436.2,994.4 436.5,995.7 436.7,995.1 436.9,991.4 437.2,993.1 437.5,994.0 437.8,990.5 438.0,989.7 438.3,988.3 438.6,987.1 438.9,986.6 439.2,987.6 439.5,987.8 439.7,987.0 440.0,985.2 440.3,985.6 440.6,985.7 440.9,986.3 441.2,989.2 441.4,988.8 441.7,986.5 442.0,984.0 442.3,985.5 442.6,983.9 442.9,984.2 443.1,984.1 443.4,980.2 443.7,981.0 444.0,985.0 444.4,982.6 444.7,977.9 445.0,977.7 445.3,977.1 445.7,979.1 446.0,979.3 446.3,975.4 446.7,974.6 447.0,973.8 447.3,976.4 447.7,977.9 448.0,975.6 448.3,975.1 448.7,977.7 449.0,978.5 449.3,977.7 449.6,975.7 450.0,976.1 450.3,975.6 450.6,973.9 451.0,975.6 451.3,973.9 451.7,971.3 452.1,973.1 452.4,976.1 452.8,977.0 453.1,977.7 453.5,975.5 453.9,976.2 454.2,976.0 454.6,976.3 454.9,981.6 455.3,981.5 455.7,979.1 456.0,978.5 456.4,978.7 456.7,980.8 457.1,979.4 457.5,978.6 457.9,981.5 458.4,979.3 459.0,978.0 459.5,981.7 460.0,984.6 460.5,983.0 461.0,981.1 461.6,978.4 462.1,981.5 462.6,984.3 463.1,983.1 463.7,978.0 464.2,976.8 464.6,976.5 464.9,977.6 465.2,978.1 465.5,976.6 465.8,978.5 466.1,982.2 466.4,983.5 466.7,980.3 467.1,981.6 467.4,982.2 467.7,978.7 468.0,979.4 468.3,980.0 468.6,980.7 468.9,983.9 469.2,984.5 469.5,982.3 469.8,983.5 470.1,984.2 470.4,983.7 470.7,988.1 471.0,991.0 471.3,990.3 471.7,990.3 472.2,989.1 472.7,987.4 473.2,988.6 473.7,990.1 474.2,990.8 474.7,991.4 475.2,992.7 475.7,992.7 476.2,992.0 476.7,993.8 477.2,992.8 477.7,991.8 478.2,993.9 478.6,992.8 479.1,987.7 479.6,986.3 480.0,986.0 480.5,988.9 481.0,990.6 481.4,990.8 481.9,991.1 482.4,987.3 482.9,987.3 483.3,989.3 483.8,989.5 484.3,991.0 484.7,991.3 485.2,990.7 485.7,986.5 486.1,984.7 486.6,984.5 487.1,985.9 487.5,990.2 488.0,987.3 488.6,985.6 489.1,989.3 489.6,989.0 490.1,985.1 490.6,984.3 491.1,987.7 491.6,985.6 492.2,986.8 492.7,987.1 493.2,986.1 493.7,987.3 494.2,985.2 494.7,980.6 495.2,980.4 495.8,981.5 496.3,982.2 496.8,981.2 497.3,983.2 497.9,984.6 498.4,981.2 498.9,982.5 499.4,982.6 500.0,984.0 500.5,986.1 501.0,982.1 501.6,980.6 502.1,983.8 502.6,983.0 503.1,979.5 503.7,979.0 504.2,980.9 504.7,983.6 505.0,984.6 505.4,982.7 505.7,983.5 506.0,984.1 506.3,984.2 506.6,982.6 507.0,982.2 507.3,982.2 507.6,984.0 507.9,987.1 508.2,986.3 508.6,985.8 508.9,987.6 509.2,987.6 509.5,986.9 509.8,987.3 510.2,985.8 510.5,985.4 511.0,986.7 511.4,989.2 511.9,989.4 512.4,989.4 512.8,991.3 513.3,992.4 513.8,993.2 514.3,993.0 514.7,993.0 515.2,992.0 515.7,993.0 516.1,996.5 516.6,994.3 517.1,992.7 517.6,994.6 518.1,994.6 518.6,990.4 519.1,991.6 519.6,992.2 520.1,989.4 520.6,990.5 521.1,990.7 521.6,989.0 522.1,988.0 522.6,988.6 523.1,990.1 523.6,990.0 524.1,991.2 524.7,989.4 525.2,987.6 525.7,989.8 526.3,991.6 526.8,990.2 527.3,989.8 527.7,993.7 527.9,992.7 528.0,989.6 528.1,989.5 528.2,989.8 528.3,988.3 528.4,989.6 528.6,988.9 528.7,983.8 528.8,982.1 528.9,982.6 529.0,985.1 529.1,983.6 529.3,983.6 529.4,981.2 529.5,977.4 529.6,977.3 529.7,978.3 529.8,979.9 530.0,980.6 530.1,979.3 530.2,979.3 530.3,980.1 530.4,980.4 530.5,980.4 530.7,977.8 530.8,977.4 530.9,978.5 531.0,977.9 531.1,974.7 531.3,970.8 531.6,972.2 532.0,975.1 532.3,976.6 532.6,974.5 532.9,972.9 533.2,972.0 533.6,973.2 533.9,971.0 534.2,969.2 534.5,971.5 534.8,967.1 535.2,965.0 535.5,965.4 535.8,965.7 536.1,964.0 536.4,961.3 536.8,960.7 537.1,960.3 537.5,962.8 538.0,964.6 538.4,964.6 538.8,966.1 539.2,962.5 539.7,962.2 540.1,964.2 540.5,960.9 540.9,963.1 541.3,965.4 541.8,961.4 542.2,959.9 542.6,964.1 543.0,963.3 543.4,958.4 543.9,959.4 544.2,962.3 544.5,961.7 544.8,961.7 545.1,962.2 545.5,964.6 545.8,966.3 546.1,967.3 546.4,964.1 546.7,961.3 547.1,961.7 547.4,963.2 547.7,965.8 548.0,968.2 548.3,965.4 548.7,963.8 549.0,968.0 549.3,966.8 549.6,966.5 549.9,970.9 550.2,971.1 550.5,967.8 550.8,971.1 551.1,974.1 551.4,972.0 551.6,970.1 551.9,969.3 552.2,971.2 552.5,971.7 552.8,974.5 553.1,976.7 553.4,975.6 553.7,977.1 554.0,979.2 554.3,980.3 554.5,980.6 554.8,979.7 555.1,977.0 555.4,976.8 555.8,978.9 556.2,978.0 556.5,976.6 556.9,979.3 557.2,979.3 557.6,978.8 557.9,975.0 558.3,975.9 558.7,974.3 559.0,971.4 559.4,971.6 559.7,970.5 560.1,970.1 560.4,969.3 560.8,971.1 561.1,969.2 561.5,969.0 561.9,969.5 562.2,964.3 562.5,964.7 562.8,965.6 563.1,966.8 563.4,969.6 563.7,967.9 564.0,965.1 564.3,966.3 564.6,968.9 564.9,966.7 565.2,962.8 565.4,963.2 565.7,961.9 566.0,960.2 566.3,960.1 566.6,958.6 566.9,958.0 567.2,960.0 567.5,961.0 567.8,958.2 568.1,958.8 568.6,960.5 569.1,959.9 569.6,959.6 570.0,960.0 570.5,959.6 571.0,960.8 571.4,960.8 571.9,959.9 572.4,960.7 572.9,958.5 573.3,957.2 573.8,956.8 574.0,956.5 574.2,955.9 574.5,955.8 574.7,956.8 575.0,958.0 575.2,959.8 575.5,958.4 575.7,959.3 576.0,963.4 576.2,963.9 576.5,963.2 576.7,963.4 577.0,964.9 577.2,965.0 577.4,964.9 577.7,963.6 577.9,963.5 578.2,966.2 578.6,966.4 579.1,965.0 579.7,962.7 580.2,963.0 580.7,965.1 581.3,963.4 581.8,964.4 582.4,964.6 582.9,964.9 583.4,965.7 584.0,965.8 584.3,966.4 584.5,964.6 584.7,967.6 584.9,966.2 585.1,966.9 585.3,969.6 585.5,971.0 585.7,969.7 585.9,967.4 586.1,968.6 586.3,972.2 586.5,973.8 586.7,972.9 586.9,975.9 587.1,975.0 587.3,974.6 587.5,976.4 587.7,972.8 587.9,973.2 588.1,974.8 588.3,972.5 588.6,973.5 588.8,974.9 589.0,977.2 589.1,978.8 589.3,975.7 589.5,975.7 589.7,976.1 589.9,975.9 590.1,975.2 590.3,974.7 590.5,973.1 590.7,968.8 590.9,970.0 591.1,972.1 591.3,969.8 591.5,966.4 591.7,969.3 591.9,971.3 592.1,968.1 592.3,964.1 592.5,963.3 592.7,964.3 592.9,965.7 593.1,963.2 593.3,964.4 593.5,967.5 593.7,967.0 593.9,962.4 594.1,961.8 594.3,962.9 594.5,960.3 594.8,962.1 595.0,960.5 595.3,959.9 595.6,960.6 595.9,957.6 596.2,956.1 596.5,955.2 596.7,955.1 597.0,953.6 597.3,956.3 597.6,958.8 597.9,956.1 598.2,954.0 598.4,953.9 598.7,955.0 599.0,955.9 599.3,951.3 599.6,950.6 599.9,951.3 600.1,951.3 600.4,952.7 600.7,952.3 601.0,948.3 601.3,949.3 601.6,950.2 602.0,946.4 602.3,946.2 602.7,947.3 603.0,945.8 603.4,943.8 603.8,946.9 604.1,949.7 604.5,949.4 604.8,946.2 605.2,942.5 605.5,942.1 605.9,943.8 606.2,946.5 606.6,944.6 606.9,944.7 607.4,943.3 607.8,940.5 608.3,941.5 608.8,944.6 609.2,943.4 609.7,939.8 610.2,942.4 610.6,945.1 611.1,942.5 611.6,937.3 612.0,936.5 612.5,937.3 612.9,941.1 613.3,939.0 613.6,937.4 614.0,939.2 614.4,939.0 614.7,939.7 615.1,939.9 615.4,941.5 615.8,943.2 616.1,945.1 616.5,944.3 616.8,941.7 617.2,942.1 617.5,944.4 617.9,945.3 618.2,943.6 618.6,943.8 618.9,947.5 619.2,949.6 619.5,945.2 619.8,944.0 620.1,944.0 620.4,947.5 620.7,949.8 621.0,946.0 621.4,945.8 621.7,950.4 622.0,950.5 622.3,949.5 622.6,951.9 622.9,951.2 623.2,950.2 623.5,949.4 623.9,951.7 624.3,953.6 624.6,949.3 625.0,947.8 625.3,947.4 625.7,949.6 626.1,949.1 626.4,949.9 626.8,948.3 627.1,947.4 627.5,946.9 627.9,947.0 628.2,950.0 628.6,947.4 628.9,946.0 629.3,944.3 629.6,942.1 630.0,946.6 630.5,948.1 631.0,948.6 631.5,949.0 631.9,949.3 632.4,946.9 632.9,943.2 633.4,945.1 633.9,946.7 634.4,943.4 634.9,942.2 635.4,942.4 635.9,943.0 636.4,944.3 636.9,944.6 637.1,944.0 637.3,946.7 637.5,948.6 637.6,948.1 637.8,949.7 637.9,949.3 638.1,952.4 638.3,955.2 638.4,955.9 638.6,954.8 638.8,953.2 638.9,954.5 639.1,955.7 639.2,958.3 639.4,956.0 639.6,957.2 639.7,960.9 639.9,959.0 640.1,957.3 640.5,960.2 640.9,959.9 641.3,958.5 641.7,959.1 642.1,959.0 642.5,961.4 642.8,964.2 643.2,964.7 643.6,964.9 644.0,965.5 644.4,965.0 644.8,964.9 645.3,966.0 645.9,965.2 646.4,965.0 647.0,965.9 647.5,962.4 648.1,961.1 648.6,966.1 649.2,966.0 649.7,964.8 650.3,960.0 650.8,959.1 651.3,959.0 651.5,959.3 651.8,959.7 652.1,961.7 652.3,965.3 652.6,965.3 652.9,965.0 653.1,967.5 653.4,966.0 653.6,963.2 653.9,963.8 654.2,964.3 654.4,965.3 654.7,967.9 655.0,966.6 655.2,967.0 655.5,972.0 655.8,972.8 656.0,969.1 656.4,967.8 656.9,970.0 657.3,969.9 657.7,971.7 658.1,973.2 658.6,971.9 659.0,973.2 659.4,973.3 659.8,975.9 660.3,977.1 660.7,976.7 661.1,973.9 661.5,973.6 661.9,977.6 662.2,974.5 662.6,973.9 663.0,976.7 663.4,973.3 663.8,971.5 664.2,971.1 664.6,969.7 665.0,972.1 665.4,972.2 665.7,970.8 666.1,969.8 666.5,968.8 666.8,969.9 667.1,966.7 667.3,968.4 667.6,969.5 667.9,964.5 668.2,963.9 668.5,963.8 668.8,963.7 669.0,966.7 669.3,966.9 669.6,964.5 669.9,964.1 670.2,963.9 670.5,961.4 670.7,962.3 671.0,964.5 671.4,966.1 671.9,965.6 672.5,963.4 673.0,965.4 673.5,964.5 674.1,961.2 674.6,963.7 675.1,966.1 675.7,962.3 676.2,963.2 676.7,964.8 677.3,963.3 677.7,964.6 678.0,961.5 678.3,961.0 678.7,960.2 679.0,958.9 679.3,963.2 679.6,962.7 679.9,960.7 680.2,958.8 680.6,959.8 680.9,961.5 681.2,957.2 681.5,955.1 681.8,958.2 682.1,958.2 682.5,957.4 682.8,958.0 683.1,954.8 683.5,956.5 683.9,957.3 684.3,955.4 684.7,953.8 685.2,955.0 685.6,954.1 686.0,953.2 686.4,954.7 686.8,953.0 687.3,952.6 687.7,953.3 688.1,949.9 688.7,951.2 689.2,953.2 689.8,950.1 690.3,952.8 690.9,954.4 691.4,952.6 692.0,951.8 692.5,949.8 693.1,951.0 693.6,955.0 694.2,955.2 694.7,952.0 695.3,950.7 695.8,952.3 696.3,952.5 696.7,954.3 697.1,955.4 697.5,955.6 697.9,955.8 698.4,953.8 698.8,952.4 699.2,953.3 699.6,954.5 700.0,956.3 700.5,957.5 700.9,959.0 701.3,959.3 701.7,956.5 702.2,954.6 702.7,953.9 703.2,952.7 703.6,953.4 704.1,954.0 704.6,952.8 705.1,952.6 705.5,957.6 706.0,957.7 706.5,957.4 707.0,957.9 707.5,954.2 708.0,953.9 708.5,956.9 709.1,957.0 709.6,954.6 710.1,955.9 710.7,957.7 711.2,957.4 711.7,955.3 712.3,952.5 712.8,952.4 713.3,953.1 713.8,954.1 714.4,952.3 714.9,954.0 715.4,952.7 716.0,951.7 716.5,951.9 717.0,952.8 717.5,955.4 718.1,952.5 718.6,953.3 719.0,955.1 719.4,955.3 719.8,955.0 720.3,957.1 720.7,956.9 721.1,953.5 721.5,955.4 721.9,955.5 722.4,953.7 722.8,954.6 723.2,957.3 723.6,957.4 724.0,957.1 724.4,954.3 724.8,952.3 725.2,952.0 725.5,954.6 725.9,954.8 726.3,951.2 726.7,953.9 727.1,955.1 727.5,952.5 727.9,950.9 728.3,951.8 728.7,956.7 729.0,956.2 729.4,954.4 729.8,957.9 730.2,959.0 730.6,959.3 731.0,958.6 731.4,959.4 731.8,959.0 732.1,958.9 732.3,960.1 732.6,960.0 732.8,961.9 733.1,962.9 733.3,962.5 733.6,965.2 733.8,967.1 734.1,963.6 734.3,962.2 734.6,964.4 734.8,963.6 735.1,963.3 735.3,963.4 735.7,962.2 736.1,961.9 736.4,962.3 736.8,962.9 737.1,963.2 737.5,960.6 737.9,962.5 738.2,965.1 738.6,963.8 738.9,963.0 739.3,959.1 739.6,956.4 740.0,959.5 740.5,957.6 740.9,957.1 741.4,957.7 741.8,955.1 742.3,955.4 742.8,957.7 743.2,955.3 743.7,953.0 744.1,953.7 744.6,956.3 744.9,956.0 745.2,955.2 745.4,956.1 745.6,954.4 745.8,956.1 746.1,954.3 746.3,949.6 746.5,948.8 746.8,949.8 747.0,951.4 747.2,952.3 747.5,950.7 747.7,948.5 747.9,949.8 748.2,951.6 748.4,951.1 748.6,950.7 748.8,949.8 749.1,948.2 749.3,949.2 749.5,948.0 749.8,946.3 750.1,948.2 750.4,945.9 750.7,945.2 751.0,950.0 751.3,949.2 751.6,947.4 751.8,950.6 752.1,952.6 752.4,951.8 752.7,951.1 753.0,951.5 753.3,952.9 753.6,954.6" fill="none" stroke="#ff0000" stroke-width="8.8" stroke-linecap="round" stroke-linejoin="round"/>
<polyline points="249.7,1178.8 249.7,1178.1 249.8,1177.1 249.8,1177.6 249.9,1177.0 249.9,1175.4 250.0,1174.8 250.0,1174.9 250.1,1175.3 250.1,1174.5 250.1,1173.8 250.2,1173.6 250.2,1172.7 250.3,1171.5 250.3,1170.6 250.4,1171.0 250.4,1170.5 250.5,1169.5 250.5,1169.3 250.5,1169.1 250.6,1168.6 250.6,1167.8 250.7,1166.5 250.7,1166.7 250.8,1167.0 250.8,1165.4 250.9,1163.6 250.9,1163.0 251.0,1162.8 251.0,1163.5 251.1,1163.5 251.1,1163.1 251.2,1162.7 251.3,1161.1 251.3,1160.5 251.4,1159.2 251.4,1158.4 251.5,1157.5 251.5,1156.4 251.6,1155.7 251.6,1155.1 251.7,1155.1 251.8,1155.5 251.8,1154.4 251.9,1154.6 251.9,1155.5 252.0,1154.0 252.0,1152.4 252.1,1152.6 252.1,1151.3 252.2,1151.0 252.2,1151.4 252.3,1150.8 252.4,1150.2 252.4,1149.6 252.5,1149.2 252.5,1148.7 252.6,1148.2 252.6,1147.4 252.7,1145.7 252.8,1144.0 252.8,1144.9 252.9,1144.9 253.0,1142.8 253.1,1142.4 253.1,1143.2 253.2,1143.4 253.3,1143.2 253.3,1142.5 253.4,1142.0 253.5,1141.0 253.5,1139.0 253.6,1138.4 253.7,1139.0 253.7,1139.5 253.8,1138.4 253.9,1137.5 254.0,1137.6 254.0,1136.8 254.1,1134.7 254.2,1133.7 254.2,1133.5 254.3,1134.2 254.4,1134.2 254.4,1133.0 254.5,1131.6 254.6,1132.0 254.7,1131.5 254.7,1129.7 254.8,1128.8 254.9,1128.1 254.9,1127.7 255.0,1128.8 255.1,1129.2 255.1,1128.1 255.2,1126.2 255.3,1124.9 255.3,1124.3 255.4,1123.8 255.5,1123.4 255.5,1124.1 255.6,1124.0 255.7,1122.4 255.7,1122.3 255.8,1122.1 255.9,1121.9 255.9,1121.5 256.0,1120.4 256.1,1119.8 256.1,1120.4 256.2,1120.1 256.3,1119.7 256.3,1119.4 256.4,1118.7 256.5,1116.6 256.5,1116.0 256.6,1115.9 256.7,1115.6 256.7,1115.6 256.8,1115.4 256.9,1113.8 256.9,1112.0 257.0,1112.0 257.1,1113.0 257.1,1111.9 257.2,1111.3 257.3,1111.5 257.4,1110.1 257.5,1109.8 257.6,1109.8 257.7,1108.2 257.8,1107.9 257.9,1107.3 258.0,1105.4 258.1,1104.8 258.2,1105.1 258.3,1105.7 258.4,1104.3 258.4,1102.5 258.5,1101.9 258.6,1101.6 258.7,1101.7 258.8,1102.4 258.9,1101.5 259.0,1100.1 259.1,1099.8 259.2,1099.0 259.3,1098.4 259.4,1098.6 259.5,1097.3 259.6,1095.5 259.7,1095.7 259.8,1095.5 259.9,1094.5 260.0,1093.2 260.1,1093.8 260.2,1094.0 260.3,1092.0 260.5,1091.4 260.6,1091.9 260.7,1090.8 260.8,1089.9 260.9,1091.0 261.0,1091.0 261.1,1089.4 261.2,1088.4 261.3,1088.3 261.4,1088.8 261.6,1088.3 261.6,1088.1 261.7,1087.1 261.8,1085.9 261.9,1084.9 261.9,1084.0 262.0,1084.3 262.1,1083.8 262.2,1083.5 262.2,1082.8 262.3,1082.3 262.4,1082.1 262.5,1080.7 262.5,1079.3 262.6,1079.6 262.7,1079.8 262.7,1078.4 262.8,1077.5 262.9,1077.4 263.0,1076.6 263.0,1075.6 263.1,1076.5 263.2,1076.3 263.3,1075.5 263.3,1073.8 263.4,1072.5 263.5,1072.3 263.6,1072.8 263.6,1071.5 263.7,1071.4 263.8,1072.1 263.9,1070.3 263.9,1069.6 264.0,1068.9 264.1,1068.6 264.2,1067.6 264.3,1067.1 264.4,1068.4 264.5,1068.0 264.7,1067.3 264.8,1066.0 264.9,1064.9 265.0,1066.0 265.1,1065.6 265.3,1063.5 265.4,1063.0 265.5,1062.7 265.6,1061.0 265.7,1060.4 265.9,1061.0 266.0,1061.5 266.1,1060.1 266.2,1059.5 266.3,1058.4 266.4,1057.3 266.6,1056.8 266.7,1056.2 266.8,1056.5 266.9,1055.7 267.0,1054.3 267.2,1053.5 267.3,1054.0 267.4,1054.8 267.5,1054.5 267.6,1053.7 267.8,1052.7 267.9,1052.0 268.0,1051.0 268.1,1051.3 268.2,1052.4 268.4,1051.3 268.5,1049.6 268.6,1048.2 268.7,1047.7 268.8,1048.3 268.9,1048.2 269.0,1047.3 269.1,1046.8 269.2,1045.8 269.3,1044.0 269.4,1042.5 269.5,1041.8 269.6,1042.8 269.7,1043.0 269.8,1041.9 270.0,1041.1 270.1,1041.2 270.2,1041.4 270.3,1040.2 270.4,1039.2 270.5,1038.4 270.6,1038.7 270.7,1038.9 270.8,1037.0 270.9,1036.1 271.0,1036.4 271.1,1036.9 271.2,1036.3 271.3,1034.8 271.4,1033.5 271.5,1033.1 271.6,1032.0 271.7,1032.1 271.8,1033.3 271.9,1032.3 272.0,1031.6 272.1,1030.5 272.2,1029.8 272.3,1030.4 272.5,1029.8 272.6,1028.9 272.7,1027.9 272.8,1026.9 272.9,1027.1 273.0,1026.9 273.2,1025.2 273.3,1023.9 273.4,1023.4 273.5,1022.9 273.6,1023.4 273.7,1022.7 273.9,1022.7 274.0,1023.4 274.1,1021.8 274.2,1021.3 274.3,1021.7 274.4,1020.0 274.6,1019.5 274.7,1020.2 274.8,1019.4 274.9,1018.0 275.0,1016.6 275.1,1015.4 275.3,1014.2 275.4,1014.1 275.5,1013.7 275.6,1013.1 275.8,1012.0 276.1,1012.4 276.3,1012.3 276.6,1011.6 276.8,1011.9 277.0,1011.6 277.3,1011.6 277.5,1010.6 277.7,1009.6 278.0,1009.7 278.2,1009.9 278.4,1009.5 278.7,1007.2 278.9,1006.9 279.2,1006.8 279.4,1005.2 279.6,1004.7 279.9,1005.9 280.1,1005.1 280.3,1003.7 280.6,1003.8 280.8,1004.1 281.0,1003.7 281.3,1003.1 281.5,1001.0 281.8,999.9 282.0,999.6 282.2,1000.4 282.5,999.4 282.7,998.0 283.0,999.1 283.3,998.3 283.5,997.7 283.8,997.5 284.1,997.6 284.3,997.1 284.6,996.6 284.9,996.4 285.1,994.5 285.4,994.6 285.7,995.2 285.9,994.1 286.2,992.9 286.4,993.6 286.7,993.1 287.0,991.9 287.2,990.3 287.5,990.3 287.8,990.3 288.0,989.8 288.3,988.8 288.6,988.1 288.8,989.0 289.1,988.6 289.4,988.1 289.8,987.1 290.1,986.3 290.5,985.6 290.9,985.0 291.3,985.1 291.7,984.5 292.1,984.1 292.5,983.8 292.9,984.4 293.3,983.6 293.6,981.6 294.0,981.6 294.4,981.6 294.8,981.0 295.2,980.9 295.6,981.6 295.9,981.2 296.0,979.5 296.0,978.4 296.1,979.1 296.1,979.1 296.1,977.7 296.2,976.9 296.2,977.1 296.3,976.8 296.3,975.5 296.4,974.8 296.4,975.1 296.5,973.4 296.5,973.8 296.6,972.7 296.6,970.8 296.7,970.8 296.7,970.6 296.8,970.2 296.8,969.7 296.9,968.0 296.9,968.0 297.0,968.6 297.0,968.1 297.0,966.9 297.1,965.5 297.1,964.8 297.2,965.7 297.2,966.6 297.3,965.1 297.3,964.0 297.4,963.7 297.4,962.8 297.5,962.4 297.6,961.3 297.7,961.0 297.8,961.7 298.0,960.8 298.1,960.3 298.3,959.5 298.4,959.2 298.5,959.0 298.7,958.5 298.8,957.1 298.9,956.8 299.1,957.7 299.2,956.6 299.4,956.2 299.5,955.2 299.6,953.8 299.8,954.8 299.9,954.7 300.1,953.2 300.2,951.6 300.3,951.7 300.5,951.0 300.6,949.8 300.7,950.0 300.9,948.5 301.0,947.4 301.2,947.9 301.3,947.5 301.4,947.7 301.6,948.0 301.7,947.4 301.8,945.8 302.0,944.6 302.2,944.1 302.6,943.4 303.0,943.5 303.4,942.1 303.8,942.8 304.2,943.3 304.6,942.0 305.1,940.9 305.5,940.5 305.9,940.7 306.3,940.5 306.7,941.0 307.1,940.3 307.5,940.2 307.9,940.5 308.3,938.0 308.8,937.8 309.2,938.3 309.6,937.6 310.0,936.5 310.4,936.0 310.7,937.3 311.1,937.1 311.5,936.8 311.8,936.4 312.2,935.8 312.6,935.3 312.9,935.2 313.3,933.1 313.6,932.0 314.0,932.7 314.4,931.0 314.7,929.9 315.1,929.6 315.5,930.1 315.8,929.8 316.2,928.8 316.5,929.2 316.9,930.4 317.3,928.3 317.6,927.7 318.0,927.7 318.3,927.9 318.5,927.0 318.7,926.5 318.9,927.0 319.0,924.5 319.2,923.5 319.4,924.8 319.6,925.5 319.8,924.8 320.0,924.5 320.2,922.2 320.4,921.6 320.6,922.7 320.7,920.6 320.9,918.1 321.1,919.1 321.3,919.0 321.5,916.7 321.7,917.9 321.9,917.7 322.1,915.5 322.2,916.8 322.4,918.1 322.6,916.7 322.8,914.6 322.9,914.1 323.0,916.0 323.2,914.4 323.3,911.7 323.4,911.7 323.5,911.8 323.6,911.3 323.8,912.1 323.9,912.3 324.0,912.0 324.1,910.5 324.2,908.8 324.4,909.5 324.5,909.8 324.6,908.0 324.7,906.6 324.8,906.3 325.0,904.4 325.1,902.7 325.2,904.3 325.3,905.1 325.4,904.0 325.6,902.4 325.7,901.3 325.8,901.0 325.9,900.9 326.0,900.0 326.2,900.9 326.3,901.3 326.4,899.0 326.5,898.1 326.6,898.5 326.8,899.4 326.9,898.4 327.1,898.0 327.3,896.5 327.6,894.6 327.8,894.0 328.1,895.3 328.3,896.1 328.6,895.3 328.8,895.0 329.0,893.4 329.3,890.7 329.5,889.6 329.8,889.1 330.0,890.7 330.3,891.9 330.5,889.3 330.8,888.5 331.0,889.7 331.2,887.0 331.5,885.5 331.7,885.0 332.0,885.9 332.2,885.4 332.5,883.7 332.8,883.3 333.0,884.1 333.3,884.0 333.6,883.0 333.8,884.6 334.1,883.7 334.4,880.9 334.6,880.5 334.9,881.7 335.1,883.4 335.4,882.1 335.7,880.5 335.9,879.5 336.2,877.2 336.5,878.5 336.7,879.2 337.0,876.1 337.3,874.7 337.5,874.5 337.8,877.0 338.2,878.2 338.5,878.4 338.9,876.5 339.2,877.3 339.6,879.7 339.9,878.9 340.3,879.6 340.6,879.5 341.0,878.9 341.3,882.0 341.7,882.8 342.0,881.4 342.4,883.2 342.7,882.6 343.1,880.7 343.4,880.8 343.6,882.2 343.7,882.2 343.9,881.1 344.0,880.8 344.2,882.2 344.3,883.2 344.5,880.8 344.6,877.9 344.8,876.9 344.9,876.0 345.1,875.2 345.2,875.7 345.4,878.3 345.5,877.6 345.7,876.9 345.8,875.5 346.0,872.7 346.1,871.0 346.3,872.6 346.4,874.3 346.6,873.0 346.7,872.3 346.9,873.2 347.0,872.9 347.2,872.3 347.3,871.7 347.5,871.0 347.6,868.3 347.8,865.0 347.9,864.4 348.3,866.6 348.7,867.5 349.1,866.8 349.5,866.1 350.0,865.1 350.4,864.0 350.8,865.0 351.2,867.1 351.7,866.0 352.1,865.2 352.5,865.8 352.9,866.2 353.4,863.8 353.8,860.9 354.2,862.8 354.6,860.9 355.1,861.3 355.5,863.4 356.0,861.2 356.5,859.5 357.0,859.5 357.4,859.6 357.9,860.7 358.4,860.9 358.8,857.4 359.3,855.6 359.8,858.4 360.3,859.5 360.7,858.6 360.8,855.0 361.0,854.4 361.1,853.4 361.2,855.3 361.4,855.0 361.5,852.3 361.6,851.8 361.8,853.0 361.9,852.6 362.0,852.0 362.2,854.4 362.3,853.4 362.4,848.9 362.6,848.5 362.7,849.1 362.8,846.1 362.9,847.2 363.1,848.2 363.2,847.1 363.3,845.6 363.5,844.9 363.6,846.4 363.7,847.3 363.9,848.4 364.0,848.8 364.2,846.4 364.5,846.0 364.8,846.9 365.0,844.6 365.3,841.7 365.6,841.3 365.9,843.0 366.2,843.0 366.5,839.6 366.8,837.9 367.1,839.2 367.4,841.3 367.7,838.3 368.0,835.3 368.3,837.6 368.6,840.7 368.9,840.4 369.2,840.2 369.4,837.8 369.7,836.5 370.0,837.8 370.3,836.1 370.5,835.0 370.7,833.1 371.0,832.0 371.2,830.3 371.5,828.5 371.7,829.3 372.0,832.1 372.2,832.6 372.5,829.4 372.7,829.0 372.9,830.7 373.2,830.6 373.4,827.5 373.7,824.6 373.9,825.1 374.2,827.6 374.4,826.7 374.7,825.9 374.9,824.2 375.1,821.1 375.4,820.7 375.6,820.4 375.8,822.1 375.9,825.8 376.0,822.7 376.2,820.3 376.3,819.6 376.4,817.7 376.6,820.9 376.7,820.8 376.8,817.1 377.0,819.9 377.1,820.2 377.3,816.3 377.4,816.1 377.5,818.4 377.7,815.6 377.8,812.3 377.9,813.2 378.1,812.9 378.2,811.7 378.3,812.0 378.5,811.8 378.6,811.4 378.7,813.4 378.9,809.7 379.0,808.1 379.2,811.0 379.4,808.7 379.6,807.4 379.8,804.9 380.0,805.7 380.2,806.2 380.4,807.1 380.6,808.9 380.8,805.4 381.0,803.9 381.2,804.5 381.4,806.0 381.6,806.6 381.8,804.8 382.0,804.2 382.2,803.5 382.5,801.1 382.7,799.5 382.9,795.9 383.1,794.4 383.3,796.7 383.5,799.6 383.7,798.4 384.2,799.3 384.7,797.4 385.2,798.1 385.7,797.9 386.2,793.8 386.7,796.5 387.2,800.0 387.7,797.4 388.2,795.1 388.7,797.3 389.2,794.9 389.7,791.6 390.2,794.1 390.7,795.0 391.2,790.6 391.7,790.0 392.2,789.9 392.7,793.1 393.2,795.7 393.7,792.0 394.2,792.1 394.7,792.3 395.2,792.1 395.6,795.1 396.1,791.5 396.6,792.3 397.1,794.4 397.6,794.1 398.1,792.4 398.6,791.3 399.1,793.0 399.6,792.6 400.1,792.0 400.6,791.6 401.0,788.5 401.5,786.3 401.9,786.2 402.3,786.3 402.7,786.0 403.2,787.0 403.6,789.0 404.0,785.5 404.4,786.0 404.9,788.4 405.3,788.8 405.7,789.3 406.1,786.9 406.6,784.6 407.0,785.7 407.4,782.9 407.8,781.8 408.1,783.8 408.4,785.9 408.6,786.3 408.9,786.0 409.2,785.1 409.4,783.2 409.7,783.6 410.0,783.6 410.3,782.7 410.5,779.0 410.8,778.4 411.1,777.2 411.3,776.4 411.6,778.9 411.9,776.6 412.2,774.0 412.5,775.3 413.0,777.7 413.6,779.5 414.1,779.4 414.6,778.7 415.2,779.3 415.7,779.2 416.3,777.8 416.8,779.3 417.4,779.8 417.9,779.4 418.5,777.4 419.0,774.9 419.6,777.7 420.1,781.2 420.6,779.8 421.2,777.8 421.7,774.9 422.3,776.5 422.8,778.0 423.3,775.2 423.9,773.2 424.4,774.9 424.9,777.6 425.4,775.0 426.0,773.2 426.5,775.5 427.0,775.9 427.6,773.1 428.1,773.8 428.6,774.6 429.2,776.4 429.7,776.0 430.2,772.6 430.6,775.2 431.1,775.8 431.5,773.3 432.0,777.6 432.4,779.0 432.9,775.2 433.3,773.6 433.8,775.4 434.2,773.2 434.6,774.3 435.1,776.3 435.5,775.2 436.0,775.1 436.4,778.6 436.9,782.4 437.3,782.7 437.8,781.8 438.2,779.7 438.7,779.7 439.1,782.5 439.6,783.3 440.1,783.2 440.5,780.6 441.0,779.0 441.4,780.2 441.9,780.9 442.3,780.6 442.8,776.5 443.3,776.7 443.7,778.6 444.2,777.2 444.6,778.4 445.1,776.5 445.6,775.5 446.0,778.7 446.5,779.8 446.9,780.4 447.4,779.1 447.9,775.8 448.3,776.6 448.8,776.7 449.2,776.2 449.7,778.9 450.1,780.5 450.6,777.8 451.1,777.0 451.5,780.2 452.0,780.8 452.3,779.7 452.7,779.8 453.0,774.7 453.4,773.9 453.8,774.9 454.1,775.0 454.5,772.8 454.8,774.7 455.2,777.2 455.6,779.1 455.9,779.4 456.3,776.2 456.6,775.7 457.0,775.8 457.4,772.0 457.7,771.3 458.1,772.3 458.5,775.2 458.8,775.1 459.2,772.4 459.5,768.3 459.9,769.1 460.3,771.7 460.7,769.9 461.1,765.9 461.5,764.7 461.8,765.6 462.2,765.5 462.6,765.3 463.0,767.9 463.4,770.4 463.8,768.9 464.2,767.1 464.6,766.0 465.0,766.0 465.3,765.1 465.7,767.1 466.1,767.2 466.5,763.8 466.9,766.6 467.3,769.0 467.7,766.2 468.1,766.3 468.5,767.7 468.8,766.5 469.2,768.1 469.6,770.4 470.0,768.1 470.4,767.5 470.8,771.6 471.2,770.7 471.6,769.3 472.0,771.2 472.3,772.2 472.7,771.1 473.1,771.9 473.5,771.1 474.0,768.9 474.5,769.2 475.0,770.1 475.5,773.0 476.1,770.6 476.6,772.4 477.1,776.1 477.6,775.6 478.1,772.3 478.7,771.1 479.2,771.9 479.7,771.8 480.2,772.0 480.6,770.3 480.8,769.8 480.9,769.3 481.0,769.9 481.2,770.2 481.3,771.4 481.4,774.2 481.6,769.9 481.7,769.3 481.8,769.8 482.0,766.2 482.1,765.9 482.2,763.9 482.3,763.2 482.5,765.1 482.6,765.9 482.7,763.0 482.9,762.5 483.0,764.6 483.1,764.1 483.3,760.9 483.4,761.5 483.5,761.2 483.7,761.4 483.8,762.9 483.9,761.0 484.2,756.5 484.7,758.2 485.2,760.1 485.7,757.6 486.1,760.0 486.6,760.2 487.1,755.6 487.6,756.7 488.1,756.5 488.5,756.1 489.0,760.1 489.5,758.7 490.0,758.0 490.5,760.0 490.9,758.2 491.4,753.6 491.9,754.4 492.4,758.1 492.9,759.0 493.3,755.6 493.8,752.8 494.3,754.2 494.8,757.3 495.3,755.7 495.8,755.8 496.3,758.1 496.8,757.5 497.3,756.6 497.8,757.4 498.2,756.9 498.7,756.7 499.2,757.1 499.7,757.8 500.2,758.8 500.7,758.8 501.2,757.9 501.7,755.8 502.2,756.7 502.7,759.7 503.2,757.0 503.6,755.5 504.1,757.1 504.5,761.3 505.0,762.1 505.4,759.6 505.8,762.6 506.3,765.5 506.7,762.2 507.2,763.0 507.6,764.8 508.0,762.7 508.5,765.6 508.9,765.2 509.4,763.8 509.8,765.4 510.2,768.0 510.7,767.9 511.1,766.0 511.6,768.2 512.0,769.0 512.4,765.5 512.9,763.7 513.3,768.5 513.7,770.8 514.1,769.7 514.5,766.6 514.9,764.5 515.4,767.2 515.8,768.3 516.2,765.6 516.6,768.2 517.0,772.5 517.4,772.6 517.8,773.9 518.3,771.2 518.7,768.6 519.1,771.4 519.5,774.3 519.9,775.8 520.3,774.9 520.7,773.8 521.1,773.5 521.6,774.3 522.0,774.8 522.3,770.7 522.6,770.9 523.0,773.9 523.3,771.3 523.6,768.5 524.0,769.4 524.3,770.5 524.6,771.5 524.9,769.3 525.3,767.9 525.6,769.0 525.9,768.2 526.3,767.3 526.6,766.6 526.9,767.1 527.3,770.5 527.6,769.4 527.9,768.0 528.2,767.4 528.6,765.5 528.9,766.2 529.3,764.8 529.7,761.1 530.1,760.8 530.5,763.6 530.9,762.0 531.2,761.2 531.6,763.2 532.0,762.3 532.4,757.9 532.8,759.4 533.2,761.5 533.6,760.6 534.0,762.3 534.4,760.1 534.7,759.3 535.1,761.8 535.5,760.5 535.9,759.9 536.5,759.3 537.0,758.7 537.5,759.7 538.0,757.6 538.5,753.9 539.0,753.2 539.5,755.0 540.0,756.9 540.5,755.6 541.0,757.3 541.5,758.7 542.0,759.5 542.4,756.8 542.8,756.5 543.2,760.6 543.6,758.7 544.1,757.0 544.5,759.6 544.9,760.7 545.3,758.3 545.7,755.1 546.1,754.7 546.6,754.9 547.0,757.1 547.4,757.6 547.8,758.5 548.2,760.4 548.7,760.0 549.1,760.4 549.5,761.2 550.0,763.5 550.5,763.3 551.1,763.3 551.6,763.6 552.1,762.0 552.6,762.7 553.2,761.8 553.7,758.4 554.2,758.6 554.8,758.6 555.3,757.9 555.8,757.7 556.3,759.2 556.9,758.8 557.4,757.1 557.8,759.2 558.2,761.4 558.6,761.4 559.0,761.7 559.4,761.0 559.8,757.6 560.2,757.5 560.6,760.0 561.0,757.4 561.3,754.3 561.7,757.2 562.1,757.5 562.4,753.0 562.7,752.2 563.1,752.4 563.4,751.3 563.7,750.3 564.0,750.3 564.3,752.2 564.6,755.3 564.9,754.8 565.2,752.5 565.5,750.2 565.8,751.9 566.1,753.4 566.4,753.0 566.7,753.1 567.1,749.7 567.4,750.5 567.8,750.6 568.1,748.3 568.5,752.0 568.9,753.0 569.2,752.2 569.6,750.7 569.9,750.8 570.3,751.8 570.7,754.4 571.0,755.3 571.4,755.1 571.7,757.7 572.1,757.7 572.4,757.6 572.8,756.6 573.2,758.0 573.5,758.7 574.0,757.0 574.5,755.0 575.0,755.2 575.6,757.6 576.1,756.7 576.6,755.5 577.2,757.2 577.7,760.1 578.2,759.9 578.7,759.8 579.3,758.1 579.8,755.8 580.3,757.5 580.9,759.3 581.4,760.9 581.9,758.7 582.3,755.4 582.7,755.9 583.2,758.3 583.6,762.0 584.0,760.0 584.5,761.3 584.9,764.8 585.3,761.3 585.7,761.2 586.2,762.1 586.6,760.2 587.0,760.6 587.5,761.4 587.8,762.0 588.1,760.9 588.5,760.3 588.8,762.3 589.1,763.5 589.4,764.2 589.8,763.5 590.1,761.5 590.4,759.9 590.8,758.0 591.1,759.9 591.4,758.2 591.8,757.2 592.1,756.3 592.4,755.9 592.7,759.8 593.1,755.7 593.4,754.0 593.7,754.5 594.1,754.5 594.4,755.9 594.9,756.5 595.3,756.4 595.8,754.2 596.2,751.2 596.7,749.1 597.1,752.3 597.6,754.3 598.1,751.1 598.5,749.5 599.0,748.1 599.4,749.1 599.9,753.2 600.3,754.1 600.8,753.9 601.3,751.7 601.8,747.4 602.3,749.8 602.8,753.3 603.3,750.7 603.9,747.3 604.4,748.7 604.9,747.5 605.4,748.9 606.0,752.8 606.5,753.6 607.0,754.0 607.5,752.5 608.0,753.8 608.5,754.2 609.0,752.8 609.5,755.3 610.0,752.9 610.4,750.5 610.9,754.1 611.4,756.8 611.9,754.7 612.4,754.5 612.8,759.1 613.3,759.2 613.8,755.7 614.3,755.4 614.8,758.5 615.2,759.0 615.7,759.2 616.2,758.4 616.6,758.7 617.0,758.5 617.4,754.4 617.8,754.2 618.2,753.5 618.5,754.7 618.9,753.2 619.3,749.5 619.7,748.8 620.1,751.0 620.5,751.5 620.9,750.2 621.3,748.3 621.7,748.9 622.0,750.4 622.4,748.9 622.8,747.4 623.2,747.2 623.4,747.0 623.7,749.6 623.9,750.7 624.2,750.2 624.4,747.9 624.7,743.9 624.9,743.8 625.2,745.3 625.4,747.8 625.6,747.9 625.9,748.5 626.1,746.6 626.4,744.7 626.6,745.6 627.1,744.1 627.7,740.4 628.2,739.9 628.7,740.6 629.3,740.8 629.8,741.0 630.3,742.5 630.9,743.0 631.4,743.7 631.9,744.4 632.4,742.3 633.0,741.8 633.5,741.9 634.0,744.4 634.6,744.7 635.1,742.9 635.6,747.1 636.2,748.6 636.7,746.4 637.3,745.0 637.8,746.8 638.3,746.2 638.9,746.4 639.4,748.0 640.0,748.4 640.5,746.0 641.1,744.9 641.6,747.4" fill="none" stroke="#0000ff" stroke-width="8.8" stroke-linecap="round" stroke-linejoin="round"/>
</g>
<rect x="593.6" y="1008.6" width="344" height="146.6" rx="4.5" fill="#fff" fill-opacity="0.8" stroke="#dadada" stroke-width="2"/>
<line x1="602.6" y1="1033.0" x2="664" y2="1033.0" stroke="#000" stroke-width="2.3"/><circle cx="634.1" cy="1033.0" r="3.2" fill="#000"/><text x="687.3" y="1044.8" font-family="'DejaVu Sans','Liberation Sans',sans-serif" font-size="28.8" fill="#111">Li/LiF<tspan font-style="italic" dx="10.3">σ</tspan><tspan dx="7.4">=</tspan><tspan dx="5.0">0</tspan><tspan font-style="italic">MPa</tspan></text>
<line x1="602.6" y1="1079.0" x2="664" y2="1079.0" stroke="#ff0000" stroke-width="2.3"/><circle cx="634.1" cy="1079.0" r="3.2" fill="#ff0000"/><text x="687.3" y="1090.8" font-family="'DejaVu Sans','Liberation Sans',sans-serif" font-size="28.8" fill="#111">Li/LiF<tspan font-style="italic" dx="10.3">σ</tspan><tspan dx="7.4">=</tspan><tspan dx="5.0">10</tspan><tspan font-style="italic">MPa</tspan></text>
<line x1="602.6" y1="1125.0" x2="664" y2="1125.0" stroke="#0000ff" stroke-width="2.3"/><circle cx="634.1" cy="1125.0" r="3.2" fill="#0000ff"/><text x="687.3" y="1136.8" font-family="'DejaVu Sans','Liberation Sans',sans-serif" font-size="28.8" fill="#111">Li/LiF<tspan font-style="italic" dx="10.3">σ</tspan><tspan dx="7.4">=</tspan><tspan dx="5.0">20</tspan><tspan font-style="italic">MPa</tspan></text>
</g>
</svg>
</body>
</html>
